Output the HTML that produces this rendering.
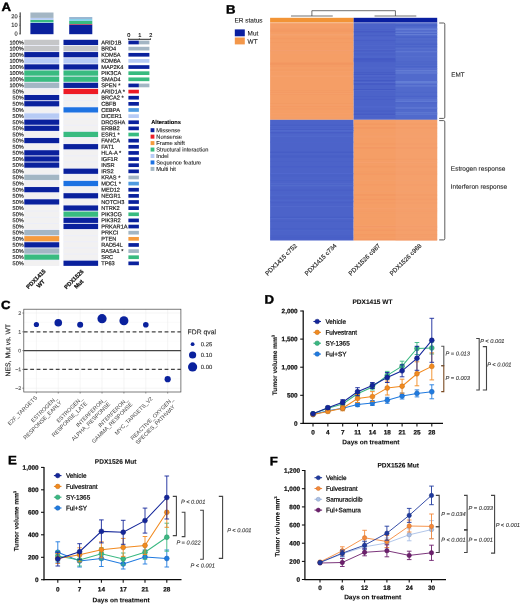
<!DOCTYPE html>
<html lang="en"><head><meta charset="utf-8"><title>Figure</title>
<style>html,body{margin:0;padding:0;background:#fff}body{width:520px;height:605px;overflow:hidden}svg{display:block;font-family:"Liberation Sans",sans-serif;text-rendering:geometricPrecision}</style></head><body>
<svg width="520" height="605" viewBox="0 0 520 605" fill="#1a1a1a">
<rect width="520" height="605" fill="#fff"/>
<g id="panelA">
<text transform="translate(1.60,11.00) rotate(0.03) scale(1.1,1)" font-size="12" font-weight="bold" fill="#000" stroke="#000" stroke-width="0.4">A</text>
<line x1="20.20" y1="12.40" x2="20.20" y2="34.40" stroke="#111" stroke-width="0.9"/>
<text transform="translate(17.60,18.20) rotate(0.03)" font-size="5.7" text-anchor="end" stroke="#1a1a1a" stroke-width="0.1">20</text>
<line x1="19.20" y1="16.60" x2="20.20" y2="16.60" stroke="#222" stroke-width="0.5"/>
<text transform="translate(17.60,26.80) rotate(0.03)" font-size="5.7" text-anchor="end" stroke="#1a1a1a" stroke-width="0.1">10</text>
<line x1="19.20" y1="25.20" x2="20.20" y2="25.20" stroke="#222" stroke-width="0.5"/>
<text transform="translate(17.60,35.40) rotate(0.03)" font-size="5.7" text-anchor="end" stroke="#1a1a1a" stroke-width="0.1">0</text>
<line x1="19.20" y1="33.80" x2="20.20" y2="33.80" stroke="#222" stroke-width="0.5"/>
<line x1="19.60" y1="33.80" x2="20.20" y2="33.80" stroke="#222" stroke-width="0.3"/>
<line x1="19.60" y1="32.08" x2="20.20" y2="32.08" stroke="#222" stroke-width="0.3"/>
<line x1="19.60" y1="30.36" x2="20.20" y2="30.36" stroke="#222" stroke-width="0.3"/>
<line x1="19.60" y1="28.64" x2="20.20" y2="28.64" stroke="#222" stroke-width="0.3"/>
<line x1="19.60" y1="26.92" x2="20.20" y2="26.92" stroke="#222" stroke-width="0.3"/>
<line x1="19.60" y1="25.20" x2="20.20" y2="25.20" stroke="#222" stroke-width="0.3"/>
<line x1="19.60" y1="23.48" x2="20.20" y2="23.48" stroke="#222" stroke-width="0.3"/>
<line x1="19.60" y1="21.76" x2="20.20" y2="21.76" stroke="#222" stroke-width="0.3"/>
<line x1="19.60" y1="20.04" x2="20.20" y2="20.04" stroke="#222" stroke-width="0.3"/>
<line x1="19.60" y1="18.32" x2="20.20" y2="18.32" stroke="#222" stroke-width="0.3"/>
<line x1="19.60" y1="16.60" x2="20.20" y2="16.60" stroke="#222" stroke-width="0.3"/>
<line x1="19.60" y1="14.88" x2="20.20" y2="14.88" stroke="#222" stroke-width="0.3"/>
<line x1="19.60" y1="13.16" x2="20.20" y2="13.16" stroke="#222" stroke-width="0.3"/>
<rect x="30.40" y="23.00" width="23.10" height="11.20" fill="#0a219d"/>
<rect x="30.40" y="22.20" width="23.10" height="0.80" fill="#9fd4e0"/>
<rect x="30.40" y="19.80" width="23.10" height="2.40" fill="#38bb80"/>
<rect x="30.40" y="17.90" width="23.10" height="1.90" fill="#b7cbf5"/>
<rect x="30.40" y="12.50" width="23.10" height="5.40" fill="#a3b6c4"/>
<rect x="69.20" y="24.50" width="23.10" height="9.70" fill="#0a219d"/>
<rect x="69.20" y="24.00" width="23.10" height="0.50" fill="#ee1c25"/>
<rect x="69.20" y="20.90" width="23.10" height="3.10" fill="#38bb80"/>
<rect x="69.20" y="18.90" width="23.10" height="2.00" fill="#86d0ea"/>
<rect x="69.20" y="17.10" width="23.10" height="1.80" fill="#8eb0cf"/>
<rect x="24.30" y="39.80" width="34.90" height="226.06" fill="#eceef9"/>
<rect x="63.50" y="39.80" width="34.60" height="226.06" fill="#eceef9"/>
<rect x="24.30" y="39.80" width="34.90" height="5.20" fill="#c5c6c8"/>
<rect x="63.50" y="39.80" width="34.60" height="5.20" fill="#0a219d"/>
<text transform="translate(23.80,44.40) rotate(0.03)" font-size="5.6" text-anchor="end" stroke="#1a1a1a" stroke-width="0.15">100%</text>
<text transform="translate(101.20,44.40) rotate(0.03)" font-size="5.65" stroke="#1a1a1a" stroke-width="0.17">ARID1B</text>
<rect x="128.40" y="40.65" width="10.50" height="3.70" fill="#0a219d"/>
<rect x="138.90" y="40.65" width="10.50" height="3.70" fill="#a3b6c4"/>
<rect x="24.30" y="45.93" width="34.90" height="5.20" fill="#c5c6c8"/>
<rect x="63.50" y="45.93" width="34.60" height="5.20" fill="#c5c6c8"/>
<text transform="translate(23.80,50.53) rotate(0.03)" font-size="5.6" text-anchor="end" stroke="#1a1a1a" stroke-width="0.15">100%</text>
<text transform="translate(101.20,50.53) rotate(0.03)" font-size="5.65" stroke="#1a1a1a" stroke-width="0.17">BRD4</text>
<rect x="128.40" y="46.78" width="21.00" height="3.70" fill="#a3b6c4"/>
<rect x="24.30" y="52.07" width="34.90" height="5.20" fill="#0a219d"/>
<rect x="63.50" y="52.07" width="34.60" height="5.20" fill="#0a219d"/>
<text transform="translate(23.80,56.67) rotate(0.03)" font-size="5.6" text-anchor="end" stroke="#1a1a1a" stroke-width="0.15">100%</text>
<text transform="translate(101.20,56.67) rotate(0.03)" font-size="5.65" stroke="#1a1a1a" stroke-width="0.17">KDM5A</text>
<rect x="128.40" y="52.92" width="21.00" height="3.70" fill="#0a219d"/>
<rect x="24.30" y="58.20" width="34.90" height="5.20" fill="#b7cbf5"/>
<rect x="63.50" y="58.20" width="34.60" height="5.20" fill="#b7cbf5"/>
<text transform="translate(23.80,62.80) rotate(0.03)" font-size="5.6" text-anchor="end" stroke="#1a1a1a" stroke-width="0.15">100%</text>
<text transform="translate(101.20,62.80) rotate(0.03)" font-size="5.65" stroke="#1a1a1a" stroke-width="0.17">KDM6A</text>
<rect x="128.40" y="59.05" width="21.00" height="3.70" fill="#b7cbf5"/>
<rect x="24.30" y="64.34" width="34.90" height="5.20" fill="#0a219d"/>
<rect x="63.50" y="64.34" width="34.60" height="5.20" fill="#0a219d"/>
<text transform="translate(23.80,68.94) rotate(0.03)" font-size="5.6" text-anchor="end" stroke="#1a1a1a" stroke-width="0.15">100%</text>
<text transform="translate(101.20,68.94) rotate(0.03)" font-size="5.65" stroke="#1a1a1a" stroke-width="0.17">MAP2K4</text>
<rect x="128.40" y="65.19" width="21.00" height="3.70" fill="#0a219d"/>
<rect x="24.30" y="70.47" width="34.90" height="5.20" fill="#38bb80"/>
<rect x="63.50" y="70.47" width="34.60" height="5.20" fill="#38bb80"/>
<text transform="translate(23.80,75.07) rotate(0.03)" font-size="5.6" text-anchor="end" stroke="#1a1a1a" stroke-width="0.15">100%</text>
<text transform="translate(101.20,75.07) rotate(0.03)" font-size="5.65" stroke="#1a1a1a" stroke-width="0.17">PIK3CA</text>
<rect x="128.40" y="71.32" width="21.00" height="3.70" fill="#38bb80"/>
<rect x="24.30" y="76.61" width="34.90" height="5.20" fill="#38bb80"/>
<rect x="63.50" y="76.61" width="34.60" height="5.20" fill="#38bb80"/>
<text transform="translate(23.80,81.21) rotate(0.03)" font-size="5.6" text-anchor="end" stroke="#1a1a1a" stroke-width="0.15">100%</text>
<text transform="translate(101.20,81.21) rotate(0.03)" font-size="5.65" stroke="#1a1a1a" stroke-width="0.17">SMAD4</text>
<rect x="128.40" y="77.46" width="21.00" height="3.70" fill="#38bb80"/>
<rect x="24.30" y="82.75" width="34.90" height="5.20" fill="#a3b6c4"/>
<rect x="63.50" y="82.75" width="34.60" height="5.20" fill="#0a219d"/>
<text transform="translate(23.80,87.34) rotate(0.03)" font-size="5.6" text-anchor="end" stroke="#1a1a1a" stroke-width="0.15">100%</text>
<text transform="translate(101.20,87.34) rotate(0.03)" font-size="5.65" stroke="#1a1a1a" stroke-width="0.17">SPEN *</text>
<rect x="128.40" y="83.59" width="10.50" height="3.70" fill="#0a219d"/>
<rect x="138.90" y="83.59" width="10.50" height="3.70" fill="#a3b6c4"/>
<rect x="24.30" y="88.88" width="34.90" height="5.20" fill="#f2f1f1"/>
<rect x="63.50" y="88.88" width="34.60" height="5.20" fill="#ee1c25"/>
<text transform="translate(23.80,93.48) rotate(0.03)" font-size="5.6" text-anchor="end" stroke="#1a1a1a" stroke-width="0.15">50%</text>
<text transform="translate(101.20,93.48) rotate(0.03)" font-size="5.65" stroke="#1a1a1a" stroke-width="0.17">ARID1A *</text>
<rect x="128.40" y="89.73" width="10.50" height="3.70" fill="#ee1c25"/>
<rect x="24.30" y="95.01" width="34.90" height="5.20" fill="#0a219d"/>
<rect x="63.50" y="95.01" width="34.60" height="5.20" fill="#f2f1f1"/>
<text transform="translate(23.80,99.61) rotate(0.03)" font-size="5.6" text-anchor="end" stroke="#1a1a1a" stroke-width="0.15">50%</text>
<text transform="translate(101.20,99.61) rotate(0.03)" font-size="5.65" stroke="#1a1a1a" stroke-width="0.17">BRCA2 *</text>
<rect x="128.40" y="95.86" width="10.50" height="3.70" fill="#0a219d"/>
<rect x="24.30" y="101.15" width="34.90" height="5.20" fill="#0a219d"/>
<rect x="63.50" y="101.15" width="34.60" height="5.20" fill="#f2f1f1"/>
<text transform="translate(23.80,105.75) rotate(0.03)" font-size="5.6" text-anchor="end" stroke="#1a1a1a" stroke-width="0.15">50%</text>
<text transform="translate(101.20,105.75) rotate(0.03)" font-size="5.65" stroke="#1a1a1a" stroke-width="0.17">CBFB</text>
<rect x="128.40" y="102.00" width="10.50" height="3.70" fill="#0a219d"/>
<rect x="24.30" y="107.28" width="34.90" height="5.20" fill="#f2f1f1"/>
<rect x="63.50" y="107.28" width="34.60" height="5.20" fill="#1d72e2"/>
<text transform="translate(23.80,111.88) rotate(0.03)" font-size="5.6" text-anchor="end" stroke="#1a1a1a" stroke-width="0.15">50%</text>
<text transform="translate(101.20,111.88) rotate(0.03)" font-size="5.65" stroke="#1a1a1a" stroke-width="0.17">CEBPA</text>
<rect x="128.40" y="108.13" width="10.50" height="3.70" fill="#4e9be0"/>
<rect x="24.30" y="113.42" width="34.90" height="5.20" fill="#b7cbf5"/>
<rect x="63.50" y="113.42" width="34.60" height="5.20" fill="#f2f1f1"/>
<text transform="translate(23.80,118.02) rotate(0.03)" font-size="5.6" text-anchor="end" stroke="#1a1a1a" stroke-width="0.15">50%</text>
<text transform="translate(101.20,118.02) rotate(0.03)" font-size="5.65" stroke="#1a1a1a" stroke-width="0.17">DICER1</text>
<rect x="128.40" y="114.27" width="10.50" height="3.70" fill="#b7cbf5"/>
<rect x="24.30" y="119.55" width="34.90" height="5.20" fill="#0a219d"/>
<rect x="63.50" y="119.55" width="34.60" height="5.20" fill="#f2f1f1"/>
<text transform="translate(23.80,124.15) rotate(0.03)" font-size="5.6" text-anchor="end" stroke="#1a1a1a" stroke-width="0.15">50%</text>
<text transform="translate(101.20,124.15) rotate(0.03)" font-size="5.65" stroke="#1a1a1a" stroke-width="0.17">DROSHA</text>
<rect x="128.40" y="120.40" width="10.50" height="3.70" fill="#0a219d"/>
<rect x="24.30" y="125.69" width="34.90" height="5.20" fill="#0a219d"/>
<rect x="63.50" y="125.69" width="34.60" height="5.20" fill="#f2f1f1"/>
<text transform="translate(23.80,130.29) rotate(0.03)" font-size="5.6" text-anchor="end" stroke="#1a1a1a" stroke-width="0.15">50%</text>
<text transform="translate(101.20,130.29) rotate(0.03)" font-size="5.65" stroke="#1a1a1a" stroke-width="0.17">ERBB2</text>
<rect x="128.40" y="126.54" width="10.50" height="3.70" fill="#0a219d"/>
<rect x="24.30" y="131.82" width="34.90" height="5.20" fill="#f2f1f1"/>
<rect x="63.50" y="131.82" width="34.60" height="5.20" fill="#38bb80"/>
<text transform="translate(23.80,136.42) rotate(0.03)" font-size="5.6" text-anchor="end" stroke="#1a1a1a" stroke-width="0.15">50%</text>
<text transform="translate(101.20,136.42) rotate(0.03)" font-size="5.65" stroke="#1a1a1a" stroke-width="0.17">ESR1 *</text>
<rect x="128.40" y="132.67" width="10.50" height="3.70" fill="#38bb80"/>
<rect x="24.30" y="137.96" width="34.90" height="5.20" fill="#0a219d"/>
<rect x="63.50" y="137.96" width="34.60" height="5.20" fill="#f2f1f1"/>
<text transform="translate(23.80,142.56) rotate(0.03)" font-size="5.6" text-anchor="end" stroke="#1a1a1a" stroke-width="0.15">50%</text>
<text transform="translate(101.20,142.56) rotate(0.03)" font-size="5.65" stroke="#1a1a1a" stroke-width="0.17">FANCA</text>
<rect x="128.40" y="138.81" width="10.50" height="3.70" fill="#0a219d"/>
<rect x="24.30" y="144.09" width="34.90" height="5.20" fill="#f2f1f1"/>
<rect x="63.50" y="144.09" width="34.60" height="5.20" fill="#0a219d"/>
<text transform="translate(23.80,148.69) rotate(0.03)" font-size="5.6" text-anchor="end" stroke="#1a1a1a" stroke-width="0.15">50%</text>
<text transform="translate(101.20,148.69) rotate(0.03)" font-size="5.65" stroke="#1a1a1a" stroke-width="0.17">FAT1</text>
<rect x="128.40" y="144.94" width="10.50" height="3.70" fill="#0a219d"/>
<rect x="24.30" y="150.23" width="34.90" height="5.20" fill="#0a219d"/>
<rect x="63.50" y="150.23" width="34.60" height="5.20" fill="#f2f1f1"/>
<text transform="translate(23.80,154.83) rotate(0.03)" font-size="5.6" text-anchor="end" stroke="#1a1a1a" stroke-width="0.15">50%</text>
<text transform="translate(101.20,154.83) rotate(0.03)" font-size="5.65" stroke="#1a1a1a" stroke-width="0.17">HLA-A *</text>
<rect x="128.40" y="151.08" width="10.50" height="3.70" fill="#0a219d"/>
<rect x="24.30" y="156.37" width="34.90" height="5.20" fill="#0a219d"/>
<rect x="63.50" y="156.37" width="34.60" height="5.20" fill="#f2f1f1"/>
<text transform="translate(23.80,160.97) rotate(0.03)" font-size="5.6" text-anchor="end" stroke="#1a1a1a" stroke-width="0.15">50%</text>
<text transform="translate(101.20,160.97) rotate(0.03)" font-size="5.65" stroke="#1a1a1a" stroke-width="0.17">IGF1R</text>
<rect x="128.40" y="157.22" width="10.50" height="3.70" fill="#0a219d"/>
<rect x="24.30" y="162.50" width="34.90" height="5.20" fill="#0a219d"/>
<rect x="63.50" y="162.50" width="34.60" height="5.20" fill="#f2f1f1"/>
<text transform="translate(23.80,167.10) rotate(0.03)" font-size="5.6" text-anchor="end" stroke="#1a1a1a" stroke-width="0.15">50%</text>
<text transform="translate(101.20,167.10) rotate(0.03)" font-size="5.65" stroke="#1a1a1a" stroke-width="0.17">INSR</text>
<rect x="128.40" y="163.35" width="10.50" height="3.70" fill="#0a219d"/>
<rect x="24.30" y="168.63" width="34.90" height="5.20" fill="#f2f1f1"/>
<rect x="63.50" y="168.63" width="34.60" height="5.20" fill="#0a219d"/>
<text transform="translate(23.80,173.23) rotate(0.03)" font-size="5.6" text-anchor="end" stroke="#1a1a1a" stroke-width="0.15">50%</text>
<text transform="translate(101.20,173.23) rotate(0.03)" font-size="5.65" stroke="#1a1a1a" stroke-width="0.17">IRS2</text>
<rect x="128.40" y="169.48" width="10.50" height="3.70" fill="#0a219d"/>
<rect x="24.30" y="174.77" width="34.90" height="5.20" fill="#a3b6c4"/>
<rect x="63.50" y="174.77" width="34.60" height="5.20" fill="#f2f1f1"/>
<text transform="translate(23.80,179.37) rotate(0.03)" font-size="5.6" text-anchor="end" stroke="#1a1a1a" stroke-width="0.15">50%</text>
<text transform="translate(101.20,179.37) rotate(0.03)" font-size="5.65" stroke="#1a1a1a" stroke-width="0.17">KRAS *</text>
<rect x="128.40" y="175.62" width="10.50" height="3.70" fill="#a3b6c4"/>
<rect x="24.30" y="180.90" width="34.90" height="5.20" fill="#f2f1f1"/>
<rect x="63.50" y="180.90" width="34.60" height="5.20" fill="#1d72e2"/>
<text transform="translate(23.80,185.50) rotate(0.03)" font-size="5.6" text-anchor="end" stroke="#1a1a1a" stroke-width="0.15">50%</text>
<text transform="translate(101.20,185.50) rotate(0.03)" font-size="5.65" stroke="#1a1a1a" stroke-width="0.17">MDC1 *</text>
<rect x="128.40" y="181.75" width="10.50" height="3.70" fill="#4e9be0"/>
<rect x="24.30" y="187.04" width="34.90" height="5.20" fill="#0a219d"/>
<rect x="63.50" y="187.04" width="34.60" height="5.20" fill="#f2f1f1"/>
<text transform="translate(23.80,191.64) rotate(0.03)" font-size="5.6" text-anchor="end" stroke="#1a1a1a" stroke-width="0.15">50%</text>
<text transform="translate(101.20,191.64) rotate(0.03)" font-size="5.65" stroke="#1a1a1a" stroke-width="0.17">MED12</text>
<rect x="128.40" y="187.89" width="10.50" height="3.70" fill="#0a219d"/>
<rect x="24.30" y="193.18" width="34.90" height="5.20" fill="#f2f1f1"/>
<rect x="63.50" y="193.18" width="34.60" height="5.20" fill="#0a219d"/>
<text transform="translate(23.80,197.78) rotate(0.03)" font-size="5.6" text-anchor="end" stroke="#1a1a1a" stroke-width="0.15">50%</text>
<text transform="translate(101.20,197.78) rotate(0.03)" font-size="5.65" stroke="#1a1a1a" stroke-width="0.17">NEGR1</text>
<rect x="128.40" y="194.03" width="10.50" height="3.70" fill="#0a219d"/>
<rect x="24.30" y="199.31" width="34.90" height="5.20" fill="#0a219d"/>
<rect x="63.50" y="199.31" width="34.60" height="5.20" fill="#f2f1f1"/>
<text transform="translate(23.80,203.91) rotate(0.03)" font-size="5.6" text-anchor="end" stroke="#1a1a1a" stroke-width="0.15">50%</text>
<text transform="translate(101.20,203.91) rotate(0.03)" font-size="5.65" stroke="#1a1a1a" stroke-width="0.17">NOTCH3</text>
<rect x="128.40" y="200.16" width="10.50" height="3.70" fill="#0a219d"/>
<rect x="24.30" y="205.44" width="34.90" height="5.20" fill="#f2f1f1"/>
<rect x="63.50" y="205.44" width="34.60" height="5.20" fill="#0a219d"/>
<text transform="translate(23.80,210.04) rotate(0.03)" font-size="5.6" text-anchor="end" stroke="#1a1a1a" stroke-width="0.15">50%</text>
<text transform="translate(101.20,210.04) rotate(0.03)" font-size="5.65" stroke="#1a1a1a" stroke-width="0.17">NTRK2</text>
<rect x="128.40" y="206.29" width="10.50" height="3.70" fill="#0a219d"/>
<rect x="24.30" y="211.58" width="34.90" height="5.20" fill="#f2f1f1"/>
<rect x="63.50" y="211.58" width="34.60" height="5.20" fill="#38bb80"/>
<text transform="translate(23.80,216.18) rotate(0.03)" font-size="5.6" text-anchor="end" stroke="#1a1a1a" stroke-width="0.15">50%</text>
<text transform="translate(101.20,216.18) rotate(0.03)" font-size="5.65" stroke="#1a1a1a" stroke-width="0.17">PIK3CG</text>
<rect x="128.40" y="212.43" width="10.50" height="3.70" fill="#38bb80"/>
<rect x="24.30" y="217.71" width="34.90" height="5.20" fill="#f2f1f1"/>
<rect x="63.50" y="217.71" width="34.60" height="5.20" fill="#0a219d"/>
<text transform="translate(23.80,222.31) rotate(0.03)" font-size="5.6" text-anchor="end" stroke="#1a1a1a" stroke-width="0.15">50%</text>
<text transform="translate(101.20,222.31) rotate(0.03)" font-size="5.65" stroke="#1a1a1a" stroke-width="0.17">PIK3R2</text>
<rect x="128.40" y="218.56" width="10.50" height="3.70" fill="#0a219d"/>
<rect x="24.30" y="223.85" width="34.90" height="5.20" fill="#f2f1f1"/>
<rect x="63.50" y="223.85" width="34.60" height="5.20" fill="#0a219d"/>
<text transform="translate(23.80,228.45) rotate(0.03)" font-size="5.6" text-anchor="end" stroke="#1a1a1a" stroke-width="0.15">50%</text>
<text transform="translate(101.20,228.45) rotate(0.03)" font-size="5.65" stroke="#1a1a1a" stroke-width="0.17">PRKAR1A</text>
<rect x="128.40" y="224.70" width="10.50" height="3.70" fill="#0a219d"/>
<rect x="24.30" y="229.99" width="34.90" height="5.20" fill="#a3b6c4"/>
<rect x="63.50" y="229.99" width="34.60" height="5.20" fill="#f2f1f1"/>
<text transform="translate(23.80,234.59) rotate(0.03)" font-size="5.6" text-anchor="end" stroke="#1a1a1a" stroke-width="0.15">50%</text>
<text transform="translate(101.20,234.59) rotate(0.03)" font-size="5.65" stroke="#1a1a1a" stroke-width="0.17">PRKCI</text>
<rect x="128.40" y="230.84" width="10.50" height="3.70" fill="#a3b6c4"/>
<rect x="24.30" y="236.12" width="34.90" height="5.20" fill="#f59b3e"/>
<rect x="63.50" y="236.12" width="34.60" height="5.20" fill="#f2f1f1"/>
<text transform="translate(23.80,240.72) rotate(0.03)" font-size="5.6" text-anchor="end" stroke="#1a1a1a" stroke-width="0.15">50%</text>
<text transform="translate(101.20,240.72) rotate(0.03)" font-size="5.65" stroke="#1a1a1a" stroke-width="0.17">PTEN</text>
<rect x="128.40" y="236.97" width="10.50" height="3.70" fill="#f59b3e"/>
<rect x="24.30" y="242.25" width="34.90" height="5.20" fill="#0a219d"/>
<rect x="63.50" y="242.25" width="34.60" height="5.20" fill="#f2f1f1"/>
<text transform="translate(23.80,246.85) rotate(0.03)" font-size="5.6" text-anchor="end" stroke="#1a1a1a" stroke-width="0.15">50%</text>
<text transform="translate(101.20,246.85) rotate(0.03)" font-size="5.65" stroke="#1a1a1a" stroke-width="0.17">RAD54L</text>
<rect x="128.40" y="243.10" width="10.50" height="3.70" fill="#0a219d"/>
<rect x="24.30" y="248.39" width="34.90" height="5.20" fill="#a3b6c4"/>
<rect x="63.50" y="248.39" width="34.60" height="5.20" fill="#f2f1f1"/>
<text transform="translate(23.80,252.99) rotate(0.03)" font-size="5.6" text-anchor="end" stroke="#1a1a1a" stroke-width="0.15">50%</text>
<text transform="translate(101.20,252.99) rotate(0.03)" font-size="5.65" stroke="#1a1a1a" stroke-width="0.17">RASA1 *</text>
<rect x="128.40" y="249.24" width="10.50" height="3.70" fill="#a3b6c4"/>
<rect x="24.30" y="254.52" width="34.90" height="5.20" fill="#38bb80"/>
<rect x="63.50" y="254.52" width="34.60" height="5.20" fill="#f2f1f1"/>
<text transform="translate(23.80,259.12) rotate(0.03)" font-size="5.6" text-anchor="end" stroke="#1a1a1a" stroke-width="0.15">50%</text>
<text transform="translate(101.20,259.12) rotate(0.03)" font-size="5.65" stroke="#1a1a1a" stroke-width="0.17">SRC</text>
<rect x="128.40" y="255.37" width="10.50" height="3.70" fill="#38bb80"/>
<rect x="24.30" y="260.66" width="34.90" height="5.20" fill="#f2f1f1"/>
<rect x="63.50" y="260.66" width="34.60" height="5.20" fill="#0a219d"/>
<text transform="translate(23.80,265.26) rotate(0.03)" font-size="5.6" text-anchor="end" stroke="#1a1a1a" stroke-width="0.15">50%</text>
<text transform="translate(101.20,265.26) rotate(0.03)" font-size="5.65" stroke="#1a1a1a" stroke-width="0.17">TP63</text>
<rect x="128.40" y="261.51" width="10.50" height="3.70" fill="#0a219d"/>
<line x1="128.00" y1="39.30" x2="150.90" y2="39.30" stroke="#111" stroke-width="0.9"/>
<text transform="translate(128.70,37.00) rotate(0.03)" font-size="5.6" text-anchor="middle" fill="#111" stroke="#111" stroke-width="0.15">0</text>
<line x1="128.40" y1="39.30" x2="128.40" y2="38.30" stroke="#111" stroke-width="0.6"/>
<text transform="translate(139.70,37.00) rotate(0.03)" font-size="5.6" text-anchor="middle" fill="#111" stroke="#111" stroke-width="0.15">1</text>
<line x1="139.40" y1="39.30" x2="139.40" y2="38.30" stroke="#111" stroke-width="0.6"/>
<text transform="translate(150.80,37.00) rotate(0.03)" font-size="5.6" text-anchor="middle" fill="#111" stroke="#111" stroke-width="0.15">2</text>
<line x1="150.50" y1="39.30" x2="150.50" y2="38.30" stroke="#111" stroke-width="0.6"/>
<text transform="translate(151.20,123.90) rotate(0.03)" font-size="5.7" font-weight="bold" fill="#000" stroke="#000" stroke-width="0.1">Alterations</text>
<rect x="150.60" y="128.20" width="3.80" height="4.00" fill="#0a219d"/>
<text transform="translate(156.30,132.20) rotate(0.03)" font-size="5.7" stroke="#1a1a1a" stroke-width="0.1">Missense</text>
<rect x="150.60" y="134.65" width="3.80" height="4.00" fill="#ee1c25"/>
<text transform="translate(156.30,138.65) rotate(0.03)" font-size="5.7" stroke="#1a1a1a" stroke-width="0.1">Nonsense</text>
<rect x="150.60" y="141.10" width="3.80" height="4.00" fill="#f59b3e"/>
<text transform="translate(156.30,145.10) rotate(0.03)" font-size="5.7" stroke="#1a1a1a" stroke-width="0.1">Frame shift</text>
<rect x="150.60" y="147.55" width="3.80" height="4.00" fill="#38bb80"/>
<text transform="translate(156.30,151.55) rotate(0.03)" font-size="5.7" stroke="#1a1a1a" stroke-width="0.1">Structural interaction</text>
<rect x="150.60" y="154.00" width="3.80" height="4.00" fill="#b7cbf5"/>
<text transform="translate(156.30,158.00) rotate(0.03)" font-size="5.7" stroke="#1a1a1a" stroke-width="0.1">Indel</text>
<rect x="150.60" y="160.45" width="3.80" height="4.00" fill="#1d72e2"/>
<text transform="translate(156.30,164.45) rotate(0.03)" font-size="5.7" stroke="#1a1a1a" stroke-width="0.1">Sequence feature</text>
<rect x="150.60" y="166.90" width="3.80" height="4.00" fill="#a3b6c4"/>
<text transform="translate(156.30,170.90) rotate(0.03)" font-size="5.7" stroke="#1a1a1a" stroke-width="0.1">Multi hit</text>
<g transform="translate(46.0,271.6) rotate(-45)" font-weight="bold" font-size="5.8" fill="#111" stroke="#111" stroke-width="0.2"><text x="0" y="0" text-anchor="end">PDX1415</text><text x="-12.3" y="6.8" text-anchor="middle">WT</text></g>
<g transform="translate(84.0,271.9) rotate(-45)" font-weight="bold" font-size="5.8" fill="#111" stroke="#111" stroke-width="0.2"><text x="0" y="0" text-anchor="end">PDX1526</text><text x="-12.3" y="6.8" text-anchor="middle">Mut</text></g>
</g>
<g id="panelB">
<text transform="translate(226.00,13.40) rotate(0.03) scale(1.1,1)" font-size="12" font-weight="bold" fill="#000" stroke="#000" stroke-width="0.4">B</text>
<text transform="translate(234.40,22.60) rotate(0.03)" font-size="6.5" stroke="#1a1a1a" stroke-width="0.1">ER status</text>
<rect x="234.80" y="29.40" width="10.00" height="6.90" fill="#0a1fa0"/>
<rect x="234.80" y="37.50" width="10.00" height="6.90" fill="#f3974a"/>
<text transform="translate(247.60,35.60) rotate(0.03)" font-size="6.4" stroke="#1a1a1a" stroke-width="0.1">Mut</text>
<text transform="translate(247.60,43.70) rotate(0.03)" font-size="6.4" stroke="#1a1a1a" stroke-width="0.1">WT</text>
<rect x="270.10" y="17.80" width="83.55" height="4.80" fill="#f29436"/>
<rect x="353.65" y="17.80" width="83.55" height="4.80" fill="#0a1fa0"/>
<rect x="270.10" y="22.60" width="83.55" height="97.20" fill="#f59e66"/>
<rect x="353.65" y="22.60" width="83.55" height="97.20" fill="#4c63c9"/>
<rect x="270.10" y="119.80" width="83.55" height="120.70" fill="#4c63c9"/>
<rect x="353.65" y="119.80" width="83.55" height="120.70" fill="#f59e66"/>
<rect x="395.42" y="22.60" width="41.77" height="97.20" fill="#5d78d2" opacity="0.35"/>
<rect x="353.65" y="53.69" width="41.77" height="0.64" fill="#3c50c0" opacity="0.18"/>
<rect x="353.65" y="74.04" width="41.77" height="0.83" fill="#3c50c0" opacity="0.47"/>
<rect x="353.65" y="43.21" width="41.77" height="0.58" fill="#5d74d4" opacity="0.17"/>
<rect x="353.65" y="31.31" width="41.77" height="0.88" fill="#3c50c0" opacity="0.48"/>
<rect x="353.65" y="83.14" width="41.77" height="1.02" fill="#3c50c0" opacity="0.35"/>
<rect x="353.65" y="60.68" width="41.77" height="1.38" fill="#3c50c0" opacity="0.34"/>
<rect x="353.65" y="35.38" width="41.77" height="0.88" fill="#3c50c0" opacity="0.35"/>
<rect x="353.65" y="76.38" width="41.77" height="1.11" fill="#3c50c0" opacity="0.35"/>
<rect x="353.65" y="83.94" width="41.77" height="0.84" fill="#3c50c0" opacity="0.35"/>
<rect x="353.65" y="82.02" width="41.77" height="0.95" fill="#5d74d4" opacity="0.42"/>
<rect x="353.65" y="67.30" width="41.77" height="1.33" fill="#5d74d4" opacity="0.25"/>
<rect x="353.65" y="98.86" width="41.77" height="1.13" fill="#3c50c0" opacity="0.18"/>
<rect x="353.65" y="51.42" width="41.77" height="0.95" fill="#5d74d4" opacity="0.41"/>
<rect x="353.65" y="50.24" width="41.77" height="1.38" fill="#3c50c0" opacity="0.33"/>
<rect x="353.65" y="38.44" width="41.77" height="0.81" fill="#5d74d4" opacity="0.30"/>
<rect x="353.65" y="114.95" width="41.77" height="0.57" fill="#5d74d4" opacity="0.27"/>
<rect x="353.65" y="56.22" width="41.77" height="0.95" fill="#5d74d4" opacity="0.17"/>
<rect x="353.65" y="31.59" width="41.77" height="0.74" fill="#3c50c0" opacity="0.17"/>
<rect x="353.65" y="89.94" width="41.77" height="1.08" fill="#5d74d4" opacity="0.25"/>
<rect x="353.65" y="59.64" width="41.77" height="1.10" fill="#3c50c0" opacity="0.48"/>
<rect x="353.65" y="56.72" width="41.77" height="1.05" fill="#5d74d4" opacity="0.17"/>
<rect x="353.65" y="96.35" width="41.77" height="0.62" fill="#3c50c0" opacity="0.29"/>
<rect x="353.65" y="110.61" width="41.77" height="0.95" fill="#3c50c0" opacity="0.31"/>
<rect x="353.65" y="75.35" width="41.77" height="1.30" fill="#5d74d4" opacity="0.45"/>
<rect x="353.65" y="49.33" width="41.77" height="0.87" fill="#5d74d4" opacity="0.39"/>
<rect x="353.65" y="59.12" width="41.77" height="0.71" fill="#3c50c0" opacity="0.21"/>
<rect x="353.65" y="44.87" width="41.77" height="0.71" fill="#5d74d4" opacity="0.44"/>
<rect x="353.65" y="40.10" width="41.77" height="0.75" fill="#3c50c0" opacity="0.30"/>
<rect x="353.65" y="58.05" width="41.77" height="1.01" fill="#3c50c0" opacity="0.39"/>
<rect x="353.65" y="72.09" width="41.77" height="1.06" fill="#3c50c0" opacity="0.31"/>
<rect x="353.65" y="106.21" width="41.77" height="1.36" fill="#5d74d4" opacity="0.29"/>
<rect x="353.65" y="60.44" width="41.77" height="0.93" fill="#5d74d4" opacity="0.17"/>
<rect x="353.65" y="29.07" width="41.77" height="0.69" fill="#3c50c0" opacity="0.19"/>
<rect x="353.65" y="80.27" width="41.77" height="0.59" fill="#3c50c0" opacity="0.34"/>
<rect x="353.65" y="113.70" width="41.77" height="1.05" fill="#3c50c0" opacity="0.46"/>
<rect x="353.65" y="81.55" width="41.77" height="0.63" fill="#5d74d4" opacity="0.48"/>
<rect x="353.65" y="80.42" width="41.77" height="0.93" fill="#3c50c0" opacity="0.45"/>
<rect x="353.65" y="117.94" width="41.77" height="0.92" fill="#5d74d4" opacity="0.26"/>
<rect x="353.65" y="36.44" width="41.77" height="1.17" fill="#5d74d4" opacity="0.32"/>
<rect x="353.65" y="89.04" width="41.77" height="0.96" fill="#3c50c0" opacity="0.48"/>
<rect x="395.42" y="73.31" width="41.78" height="0.63" fill="#7690de" opacity="0.45"/>
<rect x="395.42" y="51.22" width="41.78" height="1.08" fill="#7690de" opacity="0.43"/>
<rect x="395.42" y="47.67" width="41.78" height="0.83" fill="#7690de" opacity="0.29"/>
<rect x="395.42" y="43.99" width="41.78" height="0.99" fill="#4058c4" opacity="0.40"/>
<rect x="395.42" y="81.47" width="41.78" height="1.21" fill="#7690de" opacity="0.47"/>
<rect x="395.42" y="101.16" width="41.78" height="1.17" fill="#7690de" opacity="0.23"/>
<rect x="395.42" y="69.91" width="41.78" height="1.16" fill="#7690de" opacity="0.47"/>
<rect x="395.42" y="67.94" width="41.78" height="0.67" fill="#4058c4" opacity="0.33"/>
<rect x="395.42" y="112.55" width="41.78" height="1.39" fill="#4058c4" opacity="0.18"/>
<rect x="395.42" y="32.41" width="41.78" height="0.92" fill="#4058c4" opacity="0.23"/>
<rect x="395.42" y="82.51" width="41.78" height="1.31" fill="#7690de" opacity="0.34"/>
<rect x="395.42" y="85.29" width="41.78" height="1.22" fill="#7690de" opacity="0.48"/>
<rect x="395.42" y="34.11" width="41.78" height="0.85" fill="#7690de" opacity="0.34"/>
<rect x="395.42" y="39.74" width="41.78" height="1.21" fill="#4058c4" opacity="0.18"/>
<rect x="395.42" y="113.43" width="41.78" height="1.15" fill="#4058c4" opacity="0.31"/>
<rect x="395.42" y="113.49" width="41.78" height="1.15" fill="#7690de" opacity="0.55"/>
<rect x="395.42" y="25.24" width="41.78" height="1.03" fill="#4058c4" opacity="0.47"/>
<rect x="395.42" y="36.63" width="41.78" height="1.24" fill="#4058c4" opacity="0.41"/>
<rect x="395.42" y="56.24" width="41.78" height="0.99" fill="#7690de" opacity="0.16"/>
<rect x="395.42" y="99.34" width="41.78" height="1.15" fill="#7690de" opacity="0.36"/>
<rect x="395.42" y="112.23" width="41.78" height="0.89" fill="#7690de" opacity="0.48"/>
<rect x="395.42" y="42.86" width="41.78" height="0.73" fill="#4058c4" opacity="0.35"/>
<rect x="395.42" y="95.91" width="41.78" height="0.79" fill="#4058c4" opacity="0.48"/>
<rect x="395.42" y="28.45" width="41.78" height="1.17" fill="#4058c4" opacity="0.41"/>
<rect x="395.42" y="100.84" width="41.78" height="0.97" fill="#7690de" opacity="0.36"/>
<rect x="395.42" y="72.86" width="41.78" height="0.52" fill="#4058c4" opacity="0.46"/>
<rect x="395.42" y="81.02" width="41.78" height="1.20" fill="#7690de" opacity="0.22"/>
<rect x="395.42" y="68.06" width="41.78" height="1.15" fill="#7690de" opacity="0.28"/>
<rect x="395.42" y="72.36" width="41.78" height="1.00" fill="#7690de" opacity="0.50"/>
<rect x="395.42" y="28.05" width="41.78" height="0.67" fill="#7690de" opacity="0.46"/>
<rect x="395.42" y="71.34" width="41.78" height="1.01" fill="#7690de" opacity="0.33"/>
<rect x="395.42" y="81.40" width="41.78" height="0.95" fill="#7690de" opacity="0.43"/>
<rect x="395.42" y="66.03" width="41.78" height="0.98" fill="#4058c4" opacity="0.35"/>
<rect x="395.42" y="46.37" width="41.78" height="0.97" fill="#4058c4" opacity="0.52"/>
<rect x="395.42" y="108.30" width="41.78" height="0.68" fill="#4058c4" opacity="0.20"/>
<rect x="395.42" y="34.28" width="41.78" height="0.90" fill="#7690de" opacity="0.42"/>
<rect x="395.42" y="63.72" width="41.78" height="0.69" fill="#4058c4" opacity="0.46"/>
<rect x="395.42" y="108.71" width="41.78" height="0.64" fill="#4058c4" opacity="0.21"/>
<rect x="395.42" y="107.35" width="41.78" height="1.37" fill="#7690de" opacity="0.45"/>
<rect x="395.42" y="31.64" width="41.78" height="1.30" fill="#7690de" opacity="0.55"/>
<rect x="395.42" y="102.51" width="41.78" height="0.65" fill="#4058c4" opacity="0.55"/>
<rect x="395.42" y="61.37" width="41.78" height="0.88" fill="#4058c4" opacity="0.28"/>
<rect x="395.42" y="91.93" width="41.78" height="0.52" fill="#4058c4" opacity="0.33"/>
<rect x="395.42" y="24.34" width="41.78" height="0.80" fill="#4058c4" opacity="0.35"/>
<rect x="395.42" y="28.77" width="41.78" height="1.39" fill="#7690de" opacity="0.54"/>
<rect x="270.10" y="132.32" width="83.55" height="0.74" fill="#3c50c0" opacity="0.33"/>
<rect x="270.10" y="141.50" width="83.55" height="1.18" fill="#5f78d6" opacity="0.32"/>
<rect x="270.10" y="200.58" width="83.55" height="1.35" fill="#5f78d6" opacity="0.18"/>
<rect x="270.10" y="229.64" width="83.55" height="1.01" fill="#5f78d6" opacity="0.17"/>
<rect x="270.10" y="126.67" width="83.55" height="1.12" fill="#5f78d6" opacity="0.33"/>
<rect x="270.10" y="151.94" width="83.55" height="0.52" fill="#3c50c0" opacity="0.31"/>
<rect x="270.10" y="129.81" width="83.55" height="1.27" fill="#3c50c0" opacity="0.20"/>
<rect x="270.10" y="134.34" width="83.55" height="0.51" fill="#5f78d6" opacity="0.34"/>
<rect x="270.10" y="151.81" width="83.55" height="0.62" fill="#3c50c0" opacity="0.34"/>
<rect x="270.10" y="235.62" width="83.55" height="0.74" fill="#3c50c0" opacity="0.19"/>
<rect x="270.10" y="157.08" width="83.55" height="0.77" fill="#3c50c0" opacity="0.21"/>
<rect x="270.10" y="179.56" width="83.55" height="0.66" fill="#5f78d6" opacity="0.31"/>
<rect x="270.10" y="238.64" width="83.55" height="0.53" fill="#3c50c0" opacity="0.30"/>
<rect x="270.10" y="185.65" width="83.55" height="0.67" fill="#5f78d6" opacity="0.20"/>
<rect x="270.10" y="173.22" width="83.55" height="1.09" fill="#5f78d6" opacity="0.28"/>
<rect x="270.10" y="185.04" width="83.55" height="1.30" fill="#5f78d6" opacity="0.29"/>
<rect x="270.10" y="237.20" width="83.55" height="0.81" fill="#3c50c0" opacity="0.23"/>
<rect x="270.10" y="161.33" width="83.55" height="0.55" fill="#3c50c0" opacity="0.15"/>
<rect x="270.10" y="194.54" width="83.55" height="1.29" fill="#5f78d6" opacity="0.18"/>
<rect x="270.10" y="129.90" width="83.55" height="1.26" fill="#5f78d6" opacity="0.27"/>
<rect x="270.10" y="202.58" width="83.55" height="0.54" fill="#3c50c0" opacity="0.18"/>
<rect x="270.10" y="173.08" width="83.55" height="0.74" fill="#5f78d6" opacity="0.34"/>
<rect x="270.10" y="185.18" width="83.55" height="0.72" fill="#5f78d6" opacity="0.19"/>
<rect x="270.10" y="141.66" width="83.55" height="0.80" fill="#3c50c0" opacity="0.24"/>
<rect x="270.10" y="179.88" width="83.55" height="0.68" fill="#3c50c0" opacity="0.17"/>
<rect x="270.10" y="217.44" width="83.55" height="0.63" fill="#3c50c0" opacity="0.23"/>
<rect x="270.10" y="155.61" width="83.55" height="1.07" fill="#3c50c0" opacity="0.27"/>
<rect x="270.10" y="183.04" width="83.55" height="1.18" fill="#5f78d6" opacity="0.30"/>
<rect x="270.10" y="205.92" width="83.55" height="0.94" fill="#5f78d6" opacity="0.29"/>
<rect x="270.10" y="196.66" width="83.55" height="0.54" fill="#5f78d6" opacity="0.30"/>
<rect x="270.10" y="216.86" width="83.55" height="0.63" fill="#3c50c0" opacity="0.32"/>
<rect x="270.10" y="189.60" width="83.55" height="1.30" fill="#3c50c0" opacity="0.17"/>
<rect x="270.10" y="124.80" width="83.55" height="1.07" fill="#3c50c0" opacity="0.23"/>
<rect x="270.10" y="173.74" width="83.55" height="0.55" fill="#3c50c0" opacity="0.28"/>
<rect x="270.10" y="201.14" width="83.55" height="0.94" fill="#3c50c0" opacity="0.24"/>
<rect x="270.10" y="128.18" width="83.55" height="1.34" fill="#3c50c0" opacity="0.28"/>
<rect x="270.10" y="127.69" width="83.55" height="1.16" fill="#5f78d6" opacity="0.31"/>
<rect x="270.10" y="220.91" width="83.55" height="0.71" fill="#3c50c0" opacity="0.20"/>
<rect x="270.10" y="197.47" width="83.55" height="0.91" fill="#5f78d6" opacity="0.17"/>
<rect x="270.10" y="228.60" width="83.55" height="0.76" fill="#3c50c0" opacity="0.27"/>
<rect x="270.10" y="196.61" width="83.55" height="0.57" fill="#3c50c0" opacity="0.22"/>
<rect x="270.10" y="197.66" width="83.55" height="1.12" fill="#3c50c0" opacity="0.15"/>
<rect x="270.10" y="127.05" width="83.55" height="0.74" fill="#3c50c0" opacity="0.29"/>
<rect x="270.10" y="200.55" width="83.55" height="0.76" fill="#5f78d6" opacity="0.24"/>
<rect x="270.10" y="175.53" width="83.55" height="0.61" fill="#3c50c0" opacity="0.21"/>
<rect x="270.10" y="130.06" width="83.55" height="0.93" fill="#5f78d6" opacity="0.24"/>
<rect x="270.10" y="217.78" width="83.55" height="1.37" fill="#5f78d6" opacity="0.35"/>
<rect x="270.10" y="166.03" width="83.55" height="1.32" fill="#3c50c0" opacity="0.16"/>
<rect x="270.10" y="130.59" width="83.55" height="1.17" fill="#5f78d6" opacity="0.34"/>
<rect x="270.10" y="135.65" width="83.55" height="1.24" fill="#5f78d6" opacity="0.33"/>
<rect x="270.10" y="90.12" width="83.55" height="0.71" fill="#f28f5c" opacity="0.25"/>
<rect x="270.10" y="37.87" width="83.55" height="1.35" fill="#f28f5c" opacity="0.25"/>
<rect x="270.10" y="92.41" width="83.55" height="0.87" fill="#f28f5c" opacity="0.23"/>
<rect x="270.10" y="103.26" width="83.55" height="0.50" fill="#f28f5c" opacity="0.36"/>
<rect x="270.10" y="34.12" width="83.55" height="1.33" fill="#f7a77c" opacity="0.38"/>
<rect x="270.10" y="50.42" width="83.55" height="0.83" fill="#f28f5c" opacity="0.25"/>
<rect x="270.10" y="106.12" width="83.55" height="0.57" fill="#f28f5c" opacity="0.34"/>
<rect x="270.10" y="104.61" width="83.55" height="0.75" fill="#f7a77c" opacity="0.36"/>
<rect x="270.10" y="50.02" width="83.55" height="1.34" fill="#f7a77c" opacity="0.39"/>
<rect x="270.10" y="64.48" width="83.55" height="0.78" fill="#f28f5c" opacity="0.35"/>
<rect x="270.10" y="63.66" width="83.55" height="0.53" fill="#f28f5c" opacity="0.38"/>
<rect x="270.10" y="112.91" width="83.55" height="0.99" fill="#f7a77c" opacity="0.16"/>
<rect x="270.10" y="92.91" width="83.55" height="0.91" fill="#f7a77c" opacity="0.31"/>
<rect x="270.10" y="50.08" width="83.55" height="0.54" fill="#f7a77c" opacity="0.19"/>
<rect x="270.10" y="62.43" width="83.55" height="0.75" fill="#f28f5c" opacity="0.33"/>
<rect x="270.10" y="116.32" width="83.55" height="0.73" fill="#f7a77c" opacity="0.23"/>
<rect x="270.10" y="76.10" width="83.55" height="0.85" fill="#f7a77c" opacity="0.31"/>
<rect x="270.10" y="29.82" width="83.55" height="0.95" fill="#f28f5c" opacity="0.29"/>
<rect x="270.10" y="66.09" width="83.55" height="0.80" fill="#f28f5c" opacity="0.26"/>
<rect x="270.10" y="75.19" width="83.55" height="0.72" fill="#f7a77c" opacity="0.24"/>
<rect x="270.10" y="31.35" width="83.55" height="0.72" fill="#f28f5c" opacity="0.35"/>
<rect x="270.10" y="42.01" width="83.55" height="0.52" fill="#f28f5c" opacity="0.25"/>
<rect x="270.10" y="94.20" width="83.55" height="0.69" fill="#f28f5c" opacity="0.23"/>
<rect x="270.10" y="28.56" width="83.55" height="0.75" fill="#f28f5c" opacity="0.18"/>
<rect x="270.10" y="70.93" width="83.55" height="1.07" fill="#f7a77c" opacity="0.17"/>
<rect x="270.10" y="108.69" width="83.55" height="0.85" fill="#f28f5c" opacity="0.26"/>
<rect x="270.10" y="52.55" width="83.55" height="1.23" fill="#f7a77c" opacity="0.18"/>
<rect x="270.10" y="63.42" width="83.55" height="1.19" fill="#f28f5c" opacity="0.39"/>
<rect x="270.10" y="69.62" width="83.55" height="0.57" fill="#f28f5c" opacity="0.39"/>
<rect x="270.10" y="46.45" width="83.55" height="0.60" fill="#f7a77c" opacity="0.19"/>
<rect x="353.65" y="235.94" width="83.55" height="0.60" fill="#f28f5c" opacity="0.17"/>
<rect x="353.65" y="212.63" width="83.55" height="0.50" fill="#f7a77c" opacity="0.21"/>
<rect x="353.65" y="229.73" width="83.55" height="1.08" fill="#f28f5c" opacity="0.39"/>
<rect x="353.65" y="194.66" width="83.55" height="0.98" fill="#f28f5c" opacity="0.32"/>
<rect x="353.65" y="133.20" width="83.55" height="0.56" fill="#f7a77c" opacity="0.25"/>
<rect x="353.65" y="146.52" width="83.55" height="1.04" fill="#f7a77c" opacity="0.28"/>
<rect x="353.65" y="238.87" width="83.55" height="0.75" fill="#f28f5c" opacity="0.31"/>
<rect x="353.65" y="225.41" width="83.55" height="0.93" fill="#f7a77c" opacity="0.29"/>
<rect x="353.65" y="123.30" width="83.55" height="0.87" fill="#f28f5c" opacity="0.16"/>
<rect x="353.65" y="143.00" width="83.55" height="1.30" fill="#f28f5c" opacity="0.17"/>
<rect x="353.65" y="147.03" width="83.55" height="0.88" fill="#f28f5c" opacity="0.21"/>
<rect x="353.65" y="123.87" width="83.55" height="0.80" fill="#f28f5c" opacity="0.24"/>
<rect x="353.65" y="167.16" width="83.55" height="0.51" fill="#f28f5c" opacity="0.33"/>
<rect x="353.65" y="180.13" width="83.55" height="0.68" fill="#f7a77c" opacity="0.23"/>
<rect x="353.65" y="217.79" width="83.55" height="0.71" fill="#f7a77c" opacity="0.22"/>
<rect x="353.65" y="226.08" width="83.55" height="0.60" fill="#f28f5c" opacity="0.30"/>
<rect x="353.65" y="226.93" width="83.55" height="0.94" fill="#f7a77c" opacity="0.39"/>
<rect x="353.65" y="137.29" width="83.55" height="0.85" fill="#f7a77c" opacity="0.16"/>
<rect x="353.65" y="191.04" width="83.55" height="0.87" fill="#f7a77c" opacity="0.20"/>
<rect x="353.65" y="173.53" width="83.55" height="1.14" fill="#f28f5c" opacity="0.33"/>
<rect x="353.65" y="239.00" width="83.55" height="1.34" fill="#f28f5c" opacity="0.20"/>
<rect x="353.65" y="197.77" width="83.55" height="0.97" fill="#f28f5c" opacity="0.16"/>
<rect x="353.65" y="199.20" width="83.55" height="0.84" fill="#f28f5c" opacity="0.40"/>
<rect x="353.65" y="172.67" width="83.55" height="0.60" fill="#f7a77c" opacity="0.22"/>
<rect x="353.65" y="161.80" width="83.55" height="1.36" fill="#f7a77c" opacity="0.29"/>
<rect x="353.65" y="210.48" width="83.55" height="0.84" fill="#f28f5c" opacity="0.36"/>
<rect x="353.65" y="171.48" width="83.55" height="0.54" fill="#f28f5c" opacity="0.20"/>
<rect x="353.65" y="184.51" width="83.55" height="0.90" fill="#f28f5c" opacity="0.24"/>
<rect x="353.65" y="226.99" width="83.55" height="0.53" fill="#f28f5c" opacity="0.21"/>
<rect x="353.65" y="194.54" width="83.55" height="0.86" fill="#f28f5c" opacity="0.16"/>
<rect x="353.65" y="127.28" width="83.55" height="1.33" fill="#f28f5c" opacity="0.20"/>
<rect x="353.65" y="127.31" width="83.55" height="1.05" fill="#f28f5c" opacity="0.22"/>
<rect x="353.65" y="234.24" width="83.55" height="1.06" fill="#f28f5c" opacity="0.34"/>
<rect x="353.65" y="202.20" width="83.55" height="1.33" fill="#f28f5c" opacity="0.15"/>
<rect x="353.65" y="210.10" width="83.55" height="1.32" fill="#f7a77c" opacity="0.16"/>
<rect x="353.65" y="147.75" width="83.55" height="0.93" fill="#f28f5c" opacity="0.39"/>
<rect x="353.65" y="165.99" width="83.55" height="0.73" fill="#f28f5c" opacity="0.35"/>
<rect x="353.65" y="135.66" width="83.55" height="0.95" fill="#f7a77c" opacity="0.35"/>
<rect x="353.65" y="208.05" width="83.55" height="1.24" fill="#f7a77c" opacity="0.30"/>
<rect x="353.65" y="158.97" width="83.55" height="0.79" fill="#f28f5c" opacity="0.35"/>
<rect x="395.42" y="119.80" width="41.77" height="120.70" fill="#f6a274" opacity="0.4"/>
<rect x="270.10" y="22.60" width="167.10" height="0.70" fill="#ffffff" opacity="0.3"/>
<path d="M290.99 16.0 H332.76 M311.88 16.0 V10.7 H395.43 V16.0 M374.54 16.0 H416.31" fill="none" stroke="#333" stroke-width="0.7"/>
<path d="M439.2 23.0 H443.6 Q444.8 23.0 444.8 24.2 V117.2 Q444.8 118.4 443.6 118.4 H439.2" fill="none" stroke="#333" stroke-width="0.8"/>
<path d="M439.2 120.6 H443.6 Q444.8 120.6 444.8 121.8 V238.7 Q444.8 239.9 443.6 239.9 H439.2" fill="none" stroke="#333" stroke-width="0.8"/>
<text transform="translate(451.20,76.80) rotate(0.03)" font-size="6.3" stroke="#1a1a1a" stroke-width="0.1">EMT</text>
<text transform="translate(450.80,170.80) rotate(0.03)" font-size="6.5" stroke="#1a1a1a" stroke-width="0.1">Estrogen response</text>
<text transform="translate(450.80,188.80) rotate(0.03)" font-size="6.5" stroke="#1a1a1a" stroke-width="0.1">Interferon response</text>
<text transform="translate(297.40,246.2) rotate(-45)" text-anchor="end" font-size="6.25" fill="#222" stroke="#222" stroke-width="0.15">PDX1415 c752</text>
<text transform="translate(337.00,246.2) rotate(-45)" text-anchor="end" font-size="6.25" fill="#222" stroke="#222" stroke-width="0.15">PDX1415 c734</text>
<text transform="translate(380.80,246.2) rotate(-45)" text-anchor="end" font-size="6.25" fill="#222" stroke="#222" stroke-width="0.15">PDX1526 c987</text>
<text transform="translate(421.90,246.2) rotate(-45)" text-anchor="end" font-size="6.25" fill="#222" stroke="#222" stroke-width="0.15">PDX1526 c968</text>
</g>
<g id="panelC">
<text transform="translate(1.00,309.00) rotate(0.03) scale(1.1,1)" font-size="12" font-weight="bold" fill="#000" stroke="#000" stroke-width="0.4">C</text>
<rect x="23.80" y="309.20" width="157.10" height="82.80" fill="#ffffff"/>
<line x1="23.80" y1="313.00" x2="180.90" y2="313.00" stroke="#ebebeb" stroke-width="0.5"/>
<line x1="23.80" y1="331.80" x2="180.90" y2="331.80" stroke="#ebebeb" stroke-width="0.5"/>
<line x1="23.80" y1="350.60" x2="180.90" y2="350.60" stroke="#ebebeb" stroke-width="0.5"/>
<line x1="23.80" y1="369.40" x2="180.90" y2="369.40" stroke="#ebebeb" stroke-width="0.5"/>
<line x1="23.80" y1="388.20" x2="180.90" y2="388.20" stroke="#ebebeb" stroke-width="0.5"/>
<line x1="23.80" y1="322.40" x2="180.90" y2="322.40" stroke="#f3f3f3" stroke-width="0.3"/>
<line x1="23.80" y1="341.20" x2="180.90" y2="341.20" stroke="#f3f3f3" stroke-width="0.3"/>
<line x1="23.80" y1="360.00" x2="180.90" y2="360.00" stroke="#f3f3f3" stroke-width="0.3"/>
<line x1="23.80" y1="378.80" x2="180.90" y2="378.80" stroke="#f3f3f3" stroke-width="0.3"/>
<line x1="36.40" y1="309.20" x2="36.40" y2="392.00" stroke="#ebebeb" stroke-width="0.5"/>
<line x1="58.28" y1="309.20" x2="58.28" y2="392.00" stroke="#ebebeb" stroke-width="0.5"/>
<line x1="80.16" y1="309.20" x2="80.16" y2="392.00" stroke="#ebebeb" stroke-width="0.5"/>
<line x1="102.04" y1="309.20" x2="102.04" y2="392.00" stroke="#ebebeb" stroke-width="0.5"/>
<line x1="123.92" y1="309.20" x2="123.92" y2="392.00" stroke="#ebebeb" stroke-width="0.5"/>
<line x1="145.80" y1="309.20" x2="145.80" y2="392.00" stroke="#ebebeb" stroke-width="0.5"/>
<line x1="167.68" y1="309.20" x2="167.68" y2="392.00" stroke="#ebebeb" stroke-width="0.5"/>
<line x1="23.80" y1="350.60" x2="180.90" y2="350.60" stroke="#444" stroke-width="1.05"/>
<line x1="23.80" y1="331.80" x2="180.90" y2="331.80" stroke="#444" stroke-width="1.25" stroke-dasharray="3.8 2.6"/>
<line x1="23.80" y1="369.40" x2="180.90" y2="369.40" stroke="#444" stroke-width="1.25" stroke-dasharray="3.8 2.6"/>
<rect x="23.80" y="309.20" width="157.10" height="82.80" fill="none" stroke="#444" stroke-width="0.7"/>
<line x1="22.20" y1="313.00" x2="23.80" y2="313.00" stroke="#444" stroke-width="0.5"/>
<text transform="translate(21.20,314.90) rotate(0.03)" font-size="5.3" text-anchor="end" fill="#4d4d4d" stroke="#4d4d4d" stroke-width="0.1">2</text>
<line x1="22.20" y1="331.80" x2="23.80" y2="331.80" stroke="#444" stroke-width="0.5"/>
<text transform="translate(21.20,333.70) rotate(0.03)" font-size="5.3" text-anchor="end" fill="#4d4d4d" stroke="#4d4d4d" stroke-width="0.1">1</text>
<line x1="22.20" y1="350.60" x2="23.80" y2="350.60" stroke="#444" stroke-width="0.5"/>
<text transform="translate(21.20,352.50) rotate(0.03)" font-size="5.3" text-anchor="end" fill="#4d4d4d" stroke="#4d4d4d" stroke-width="0.1">0</text>
<line x1="22.20" y1="369.40" x2="23.80" y2="369.40" stroke="#444" stroke-width="0.5"/>
<text transform="translate(21.20,371.30) rotate(0.03)" font-size="5.3" text-anchor="end" fill="#4d4d4d" stroke="#4d4d4d" stroke-width="0.1">−1</text>
<line x1="22.20" y1="388.20" x2="23.80" y2="388.20" stroke="#444" stroke-width="0.5"/>
<text transform="translate(21.20,390.10) rotate(0.03)" font-size="5.3" text-anchor="end" fill="#4d4d4d" stroke="#4d4d4d" stroke-width="0.1">−2</text>
<line x1="36.40" y1="392.00" x2="36.40" y2="393.60" stroke="#444" stroke-width="0.5"/>
<line x1="58.28" y1="392.00" x2="58.28" y2="393.60" stroke="#444" stroke-width="0.5"/>
<line x1="80.16" y1="392.00" x2="80.16" y2="393.60" stroke="#444" stroke-width="0.5"/>
<line x1="102.04" y1="392.00" x2="102.04" y2="393.60" stroke="#444" stroke-width="0.5"/>
<line x1="123.92" y1="392.00" x2="123.92" y2="393.60" stroke="#444" stroke-width="0.5"/>
<line x1="145.80" y1="392.00" x2="145.80" y2="393.60" stroke="#444" stroke-width="0.5"/>
<line x1="167.68" y1="392.00" x2="167.68" y2="393.60" stroke="#444" stroke-width="0.5"/>
<circle cx="36.40" cy="324.50" r="2.60" fill="#0a219d"/>
<circle cx="58.28" cy="322.70" r="3.80" fill="#0a219d"/>
<circle cx="80.16" cy="324.70" r="3.00" fill="#0a219d"/>
<circle cx="102.04" cy="318.70" r="4.60" fill="#0a219d"/>
<circle cx="123.92" cy="320.80" r="4.50" fill="#0a219d"/>
<circle cx="145.80" cy="324.80" r="2.80" fill="#0a219d"/>
<circle cx="167.68" cy="379.20" r="3.10" fill="#0a219d"/>
<text transform="translate(10.2,350.2) rotate(-90.03)" text-anchor="middle" font-size="6.85" fill="#222" stroke="#222" stroke-width="0.12">NES, Mut vs. WT</text>
<g font-size="5.55" text-anchor="end" fill="#444">
<text transform="translate(37.50,398.15) rotate(-45)">E2F_TARGETS</text>
<text transform="translate(57.45,398.45) rotate(-45)">ESTROGEN_</text>
<text transform="translate(62.15,403.15) rotate(-45)">RESPONSE_EARLY</text>
<text transform="translate(82.85,398.90) rotate(-45)">ESTROGEN_</text>
<text transform="translate(87.55,403.80) rotate(-45)">RESPONSE_LATE</text>
<text transform="translate(105.95,399.75) rotate(-45)">INTERFERON_</text>
<text transform="translate(110.65,404.45) rotate(-45)">ALPHA_RESPONSE</text>
<text transform="translate(128.10,400.00) rotate(-45)">INTERFERON_</text>
<text transform="translate(132.80,404.70) rotate(-45)">GAMMA_RESPONSE</text>
<text transform="translate(153.00,399.05) rotate(-45)">MYC_TARGETS_V2</text>
<text transform="translate(173.60,399.60) rotate(-45)">REACTIVE_OXYGEN_</text>
<text transform="translate(175.40,407.20) rotate(-45)">SPECIES_PATHWAY</text>
</g>
<text transform="translate(187.60,334.20) rotate(0.03)" font-size="6.8" fill="#222" stroke="#222" stroke-width="0.1">FDR qval</text>
<circle cx="192.6" cy="344.20" r="1.90" fill="#0a219d"/>
<text transform="translate(200.80,346.20) rotate(0.03)" font-size="5.9" fill="#222" stroke="#222" stroke-width="0.1">0.25</text>
<circle cx="192.6" cy="355.00" r="3.60" fill="#0a219d"/>
<text transform="translate(200.80,357.00) rotate(0.03)" font-size="5.9" fill="#222" stroke="#222" stroke-width="0.1">0.10</text>
<circle cx="192.6" cy="366.90" r="4.60" fill="#0a219d"/>
<text transform="translate(200.80,368.90) rotate(0.03)" font-size="5.9" fill="#222" stroke="#222" stroke-width="0.1">0.00</text>
</g>
<g id="panelD">
<text transform="translate(264.50,303.50) rotate(0.03) scale(1.1,1)" font-size="12" font-weight="bold" fill="#000" stroke="#000" stroke-width="0.4">D</text>
<text transform="translate(372.50,304.00) rotate(0.03)" font-size="6.55" font-weight="bold" text-anchor="middle" fill="#111" stroke="#111" stroke-width="0.1">PDX1415 WT</text>
<line x1="303.20" y1="310.55" x2="303.20" y2="424.00" stroke="#0a0a0a" stroke-width="1.25"/>
<line x1="302.60" y1="423.40" x2="443.00" y2="423.40" stroke="#0a0a0a" stroke-width="1.25"/>
<line x1="300.20" y1="311.00" x2="303.20" y2="311.00" stroke="#0a0a0a" stroke-width="1.05"/>
<text transform="translate(297.60,313.25) rotate(0.03)" font-size="6.4" font-weight="bold" text-anchor="end" fill="#111" stroke="#111" stroke-width="0.2">2,000</text>
<line x1="300.20" y1="339.10" x2="303.20" y2="339.10" stroke="#0a0a0a" stroke-width="1.05"/>
<text transform="translate(297.60,341.35) rotate(0.03)" font-size="6.4" font-weight="bold" text-anchor="end" fill="#111" stroke="#111" stroke-width="0.2">1,500</text>
<line x1="300.20" y1="367.20" x2="303.20" y2="367.20" stroke="#0a0a0a" stroke-width="1.05"/>
<text transform="translate(297.60,369.45) rotate(0.03)" font-size="6.4" font-weight="bold" text-anchor="end" fill="#111" stroke="#111" stroke-width="0.2">1,000</text>
<line x1="300.20" y1="395.30" x2="303.20" y2="395.30" stroke="#0a0a0a" stroke-width="1.05"/>
<text transform="translate(297.60,397.55) rotate(0.03)" font-size="6.4" font-weight="bold" text-anchor="end" fill="#111" stroke="#111" stroke-width="0.2">500</text>
<line x1="300.20" y1="423.40" x2="303.20" y2="423.40" stroke="#0a0a0a" stroke-width="1.05"/>
<text transform="translate(297.60,425.65) rotate(0.03)" font-size="6.4" font-weight="bold" text-anchor="end" fill="#111" stroke="#111" stroke-width="0.2">0</text>
<line x1="313.00" y1="423.40" x2="313.00" y2="426.40" stroke="#0a0a0a" stroke-width="1.05"/>
<text transform="translate(313.00,434.50) rotate(0.03)" font-size="6.4" font-weight="bold" text-anchor="middle" fill="#111" stroke="#111" stroke-width="0.2">0</text>
<line x1="327.85" y1="423.40" x2="327.85" y2="426.40" stroke="#0a0a0a" stroke-width="1.05"/>
<text transform="translate(327.85,434.50) rotate(0.03)" font-size="6.4" font-weight="bold" text-anchor="middle" fill="#111" stroke="#111" stroke-width="0.2">4</text>
<line x1="342.70" y1="423.40" x2="342.70" y2="426.40" stroke="#0a0a0a" stroke-width="1.05"/>
<text transform="translate(342.70,434.50) rotate(0.03)" font-size="6.4" font-weight="bold" text-anchor="middle" fill="#111" stroke="#111" stroke-width="0.2">7</text>
<line x1="357.55" y1="423.40" x2="357.55" y2="426.40" stroke="#0a0a0a" stroke-width="1.05"/>
<text transform="translate(357.55,434.50) rotate(0.03)" font-size="6.4" font-weight="bold" text-anchor="middle" fill="#111" stroke="#111" stroke-width="0.2">11</text>
<line x1="372.40" y1="423.40" x2="372.40" y2="426.40" stroke="#0a0a0a" stroke-width="1.05"/>
<text transform="translate(372.40,434.50) rotate(0.03)" font-size="6.4" font-weight="bold" text-anchor="middle" fill="#111" stroke="#111" stroke-width="0.2">14</text>
<line x1="387.25" y1="423.40" x2="387.25" y2="426.40" stroke="#0a0a0a" stroke-width="1.05"/>
<text transform="translate(387.25,434.50) rotate(0.03)" font-size="6.4" font-weight="bold" text-anchor="middle" fill="#111" stroke="#111" stroke-width="0.2">18</text>
<line x1="402.10" y1="423.40" x2="402.10" y2="426.40" stroke="#0a0a0a" stroke-width="1.05"/>
<text transform="translate(402.10,434.50) rotate(0.03)" font-size="6.4" font-weight="bold" text-anchor="middle" fill="#111" stroke="#111" stroke-width="0.2">21</text>
<line x1="416.95" y1="423.40" x2="416.95" y2="426.40" stroke="#0a0a0a" stroke-width="1.05"/>
<text transform="translate(416.95,434.50) rotate(0.03)" font-size="6.4" font-weight="bold" text-anchor="middle" fill="#111" stroke="#111" stroke-width="0.2">25</text>
<line x1="431.80" y1="423.40" x2="431.80" y2="426.40" stroke="#0a0a0a" stroke-width="1.05"/>
<text transform="translate(431.80,434.50) rotate(0.03)" font-size="6.4" font-weight="bold" text-anchor="middle" fill="#111" stroke="#111" stroke-width="0.2">28</text>
<text transform="translate(277.00,365.10) rotate(-90.03)" text-anchor="middle" font-size="6.55" font-weight="bold" fill="#111" stroke="#111" stroke-width="0.1">Tumor volume mm<tspan font-size="4.2" dy="-2.4">3</tspan></text>
<text transform="translate(370.90,444.20) rotate(0.03)" font-size="6.55" font-weight="bold" text-anchor="middle" fill="#111" stroke="#111" stroke-width="0.1">Days on treatment</text>
<path d="M327.85 409.80 V411.80 M325.55 409.80 H330.15 M325.55 411.80 H330.15" stroke="#1f7ae0" stroke-width="0.9" fill="none"/>
<path d="M342.70 406.80 V409.80 M340.40 406.80 H345.00 M340.40 409.80 H345.00" stroke="#1f7ae0" stroke-width="0.9" fill="none"/>
<path d="M357.55 402.60 V406.60 M355.25 402.60 H359.85 M355.25 406.60 H359.85" stroke="#1f7ae0" stroke-width="0.9" fill="none"/>
<path d="M372.40 400.50 V405.50 M370.10 400.50 H374.70 M370.10 405.50 H374.70" stroke="#1f7ae0" stroke-width="0.9" fill="none"/>
<path d="M387.25 397.30 V403.30 M384.95 397.30 H389.55 M384.95 403.30 H389.55" stroke="#1f7ae0" stroke-width="0.9" fill="none"/>
<path d="M402.10 393.00 V399.00 M399.80 393.00 H404.40 M399.80 399.00 H404.40" stroke="#1f7ae0" stroke-width="0.9" fill="none"/>
<path d="M416.95 389.90 V396.90 M414.65 389.90 H419.25 M414.65 396.90 H419.25" stroke="#1f7ae0" stroke-width="0.9" fill="none"/>
<path d="M431.80 384.80 V398.80 M429.50 384.80 H434.10 M429.50 398.80 H434.10" stroke="#1f7ae0" stroke-width="0.9" fill="none"/>
<polyline points="313.00,414.50 327.85,410.80 342.70,408.30 357.55,404.60 372.40,403.00 387.25,400.30 402.10,396.00 416.95,393.40 431.80,391.80" fill="none" stroke="#1f7ae0" stroke-width="1.05"/>
<circle cx="313.00" cy="414.50" r="2.45" fill="#1f7ae0" stroke="#1861b3" stroke-width="0.5"/>
<circle cx="327.85" cy="410.80" r="2.45" fill="#1f7ae0" stroke="#1861b3" stroke-width="0.5"/>
<circle cx="342.70" cy="408.30" r="2.45" fill="#1f7ae0" stroke="#1861b3" stroke-width="0.5"/>
<circle cx="357.55" cy="404.60" r="2.45" fill="#1f7ae0" stroke="#1861b3" stroke-width="0.5"/>
<circle cx="372.40" cy="403.00" r="2.45" fill="#1f7ae0" stroke="#1861b3" stroke-width="0.5"/>
<circle cx="387.25" cy="400.30" r="2.45" fill="#1f7ae0" stroke="#1861b3" stroke-width="0.5"/>
<circle cx="402.10" cy="396.00" r="2.45" fill="#1f7ae0" stroke="#1861b3" stroke-width="0.5"/>
<circle cx="416.95" cy="393.40" r="2.45" fill="#1f7ae0" stroke="#1861b3" stroke-width="0.5"/>
<circle cx="431.80" cy="391.80" r="2.45" fill="#1f7ae0" stroke="#1861b3" stroke-width="0.5"/>
<path d="M327.85 406.80 V409.80 M325.55 406.80 H330.15 M325.55 409.80 H330.15" stroke="#3ab882" stroke-width="0.9" fill="none"/>
<path d="M342.70 402.00 V406.00 M340.40 402.00 H345.00 M340.40 406.00 H345.00" stroke="#3ab882" stroke-width="0.9" fill="none"/>
<path d="M357.55 390.80 V396.80 M355.25 390.80 H359.85 M355.25 396.80 H359.85" stroke="#3ab882" stroke-width="0.9" fill="none"/>
<path d="M372.40 384.00 V390.00 M370.10 384.00 H374.70 M370.10 390.00 H374.70" stroke="#3ab882" stroke-width="0.9" fill="none"/>
<path d="M387.25 371.40 V379.40 M384.95 371.40 H389.55 M384.95 379.40 H389.55" stroke="#3ab882" stroke-width="0.9" fill="none"/>
<path d="M402.10 361.20 V371.20 M399.80 361.20 H404.40 M399.80 371.20 H404.40" stroke="#3ab882" stroke-width="0.9" fill="none"/>
<path d="M416.95 342.50 V354.50 M414.65 342.50 H419.25 M414.65 354.50 H419.25" stroke="#3ab882" stroke-width="0.9" fill="none"/>
<path d="M431.80 342.00 V354.00 M429.50 342.00 H434.10 M429.50 354.00 H434.10" stroke="#3ab882" stroke-width="0.9" fill="none"/>
<polyline points="313.00,413.80 327.85,408.30 342.70,404.00 357.55,393.80 372.40,387.00 387.25,375.40 402.10,366.20 416.95,348.50 431.80,348.00" fill="none" stroke="#3ab882" stroke-width="1.05"/>
<circle cx="313.00" cy="413.80" r="2.45" fill="#3ab882" stroke="#2e9368" stroke-width="0.5"/>
<circle cx="327.85" cy="408.30" r="2.45" fill="#3ab882" stroke="#2e9368" stroke-width="0.5"/>
<circle cx="342.70" cy="404.00" r="2.45" fill="#3ab882" stroke="#2e9368" stroke-width="0.5"/>
<circle cx="357.55" cy="393.80" r="2.45" fill="#3ab882" stroke="#2e9368" stroke-width="0.5"/>
<circle cx="372.40" cy="387.00" r="2.45" fill="#3ab882" stroke="#2e9368" stroke-width="0.5"/>
<circle cx="387.25" cy="375.40" r="2.45" fill="#3ab882" stroke="#2e9368" stroke-width="0.5"/>
<circle cx="402.10" cy="366.20" r="2.45" fill="#3ab882" stroke="#2e9368" stroke-width="0.5"/>
<circle cx="416.95" cy="348.50" r="2.45" fill="#3ab882" stroke="#2e9368" stroke-width="0.5"/>
<circle cx="431.80" cy="348.00" r="2.45" fill="#3ab882" stroke="#2e9368" stroke-width="0.5"/>
<path d="M327.85 409.90 V412.90 M325.55 409.90 H330.15 M325.55 412.90 H330.15" stroke="#f28a1f" stroke-width="0.9" fill="none"/>
<path d="M342.70 405.80 V410.80 M340.40 405.80 H345.00 M340.40 410.80 H345.00" stroke="#f28a1f" stroke-width="0.9" fill="none"/>
<path d="M357.55 394.50 V402.50 M355.25 394.50 H359.85 M355.25 402.50 H359.85" stroke="#f28a1f" stroke-width="0.9" fill="none"/>
<path d="M372.40 391.60 V401.60 M370.10 391.60 H374.70 M370.10 401.60 H374.70" stroke="#f28a1f" stroke-width="0.9" fill="none"/>
<path d="M387.25 381.00 V395.00 M384.95 381.00 H389.55 M384.95 395.00 H389.55" stroke="#f28a1f" stroke-width="0.9" fill="none"/>
<path d="M402.10 379.20 V393.20 M399.80 379.20 H404.40 M399.80 393.20 H404.40" stroke="#f28a1f" stroke-width="0.9" fill="none"/>
<path d="M416.95 361.80 V385.80 M414.65 361.80 H419.25 M414.65 385.80 H419.25" stroke="#f28a1f" stroke-width="0.9" fill="none"/>
<path d="M431.80 352.90 V379.90 M429.50 352.90 H434.10 M429.50 379.90 H434.10" stroke="#f28a1f" stroke-width="0.9" fill="none"/>
<polyline points="313.00,414.50 327.85,411.40 342.70,408.30 357.55,398.50 372.40,396.60 387.25,388.00 402.10,386.20 416.95,373.80 431.80,366.40" fill="none" stroke="#f28a1f" stroke-width="1.05"/>
<circle cx="313.00" cy="414.50" r="2.45" fill="#f28a1f" stroke="#c16e18" stroke-width="0.5"/>
<circle cx="327.85" cy="411.40" r="2.45" fill="#f28a1f" stroke="#c16e18" stroke-width="0.5"/>
<circle cx="342.70" cy="408.30" r="2.45" fill="#f28a1f" stroke="#c16e18" stroke-width="0.5"/>
<circle cx="357.55" cy="398.50" r="2.45" fill="#f28a1f" stroke="#c16e18" stroke-width="0.5"/>
<circle cx="372.40" cy="396.60" r="2.45" fill="#f28a1f" stroke="#c16e18" stroke-width="0.5"/>
<circle cx="387.25" cy="388.00" r="2.45" fill="#f28a1f" stroke="#c16e18" stroke-width="0.5"/>
<circle cx="402.10" cy="386.20" r="2.45" fill="#f28a1f" stroke="#c16e18" stroke-width="0.5"/>
<circle cx="416.95" cy="373.80" r="2.45" fill="#f28a1f" stroke="#c16e18" stroke-width="0.5"/>
<circle cx="431.80" cy="366.40" r="2.45" fill="#f28a1f" stroke="#c16e18" stroke-width="0.5"/>
<path d="M327.85 406.20 V409.20 M325.55 406.20 H330.15 M325.55 409.20 H330.15" stroke="#14269a" stroke-width="0.9" fill="none"/>
<path d="M342.70 399.70 V404.70 M340.40 399.70 H345.00 M340.40 404.70 H345.00" stroke="#14269a" stroke-width="0.9" fill="none"/>
<path d="M357.55 387.70 V395.70 M355.25 387.70 H359.85 M355.25 395.70 H359.85" stroke="#14269a" stroke-width="0.9" fill="none"/>
<path d="M372.40 382.50 V388.50 M370.10 382.50 H374.70 M370.10 388.50 H374.70" stroke="#14269a" stroke-width="0.9" fill="none"/>
<path d="M387.25 372.50 V382.50 M384.95 372.50 H389.55 M384.95 382.50 H389.55" stroke="#14269a" stroke-width="0.9" fill="none"/>
<path d="M402.10 364.80 V376.80 M399.80 364.80 H404.40 M399.80 376.80 H404.40" stroke="#14269a" stroke-width="0.9" fill="none"/>
<path d="M416.95 346.30 V370.30 M414.65 346.30 H419.25 M414.65 370.30 H419.25" stroke="#14269a" stroke-width="0.9" fill="none"/>
<path d="M431.80 318.30 V362.30 M429.50 318.30 H434.10 M429.50 362.30 H434.10" stroke="#14269a" stroke-width="0.9" fill="none"/>
<polyline points="313.00,413.80 327.85,407.70 342.70,402.20 357.55,391.70 372.40,385.50 387.25,377.50 402.10,370.80 416.95,358.30 431.80,340.30" fill="none" stroke="#14269a" stroke-width="1.05"/>
<circle cx="313.00" cy="413.80" r="2.45" fill="#14269a" stroke="#101e7b" stroke-width="0.5"/>
<circle cx="327.85" cy="407.70" r="2.45" fill="#14269a" stroke="#101e7b" stroke-width="0.5"/>
<circle cx="342.70" cy="402.20" r="2.45" fill="#14269a" stroke="#101e7b" stroke-width="0.5"/>
<circle cx="357.55" cy="391.70" r="2.45" fill="#14269a" stroke="#101e7b" stroke-width="0.5"/>
<circle cx="372.40" cy="385.50" r="2.45" fill="#14269a" stroke="#101e7b" stroke-width="0.5"/>
<circle cx="387.25" cy="377.50" r="2.45" fill="#14269a" stroke="#101e7b" stroke-width="0.5"/>
<circle cx="402.10" cy="370.80" r="2.45" fill="#14269a" stroke="#101e7b" stroke-width="0.5"/>
<circle cx="416.95" cy="358.30" r="2.45" fill="#14269a" stroke="#101e7b" stroke-width="0.5"/>
<circle cx="431.80" cy="340.30" r="2.45" fill="#14269a" stroke="#101e7b" stroke-width="0.5"/>
<line x1="313.40" y1="321.50" x2="321.00" y2="321.50" stroke="#14269a" stroke-width="1.1"/>
<circle cx="317.20" cy="321.50" r="2.30" fill="#14269a" stroke="#101e7b" stroke-width="0.5"/>
<text transform="translate(325.40,323.75) rotate(0.03)" font-size="6.4" stroke="#1a1a1a" stroke-width="0.28">Vehicle</text>
<line x1="313.40" y1="332.35" x2="321.00" y2="332.35" stroke="#f28a1f" stroke-width="1.1"/>
<circle cx="317.20" cy="332.35" r="2.30" fill="#f28a1f" stroke="#c16e18" stroke-width="0.5"/>
<text transform="translate(325.40,334.60) rotate(0.03)" font-size="6.4" stroke="#1a1a1a" stroke-width="0.28">Fulvestrant</text>
<line x1="313.40" y1="343.20" x2="321.00" y2="343.20" stroke="#3ab882" stroke-width="1.1"/>
<circle cx="317.20" cy="343.20" r="2.30" fill="#3ab882" stroke="#2e9368" stroke-width="0.5"/>
<text transform="translate(325.40,345.45) rotate(0.03)" font-size="6.4" stroke="#1a1a1a" stroke-width="0.28">SY-1365</text>
<line x1="313.40" y1="354.05" x2="321.00" y2="354.05" stroke="#1f7ae0" stroke-width="1.1"/>
<circle cx="317.20" cy="354.05" r="2.30" fill="#1f7ae0" stroke="#1861b3" stroke-width="0.5"/>
<text transform="translate(325.40,356.30) rotate(0.03)" font-size="6.4" stroke="#1a1a1a" stroke-width="0.28">Ful+SY</text>
<path d="M441.20 346.20 H443.80 V365.80 H441.20" fill="none" stroke="#555" stroke-width="1.1"/>
<path d="M441.20 365.80 H443.80 V391.60 H441.20" fill="none" stroke="#7a4a22" stroke-width="1.1"/>
<path d="M476.20 338.50 H479.20 V390.00 H476.20" fill="none" stroke="#444" stroke-width="1.1"/>
<path d="M482.80 346.60 H486.50 V390.00 H482.80" fill="none" stroke="#444" stroke-width="1.1"/>
<text transform="translate(445.60,355.60) rotate(0.03)" font-size="5.7" font-style="italic" fill="#333" stroke="#333" stroke-width="0.1">P = 0.013</text>
<text transform="translate(445.60,380.00) rotate(0.03)" font-size="5.7" font-style="italic" fill="#333" stroke="#333" stroke-width="0.1">P = 0.003</text>
<text transform="translate(480.20,343.00) rotate(0.03)" font-size="5.7" font-style="italic" fill="#333" stroke="#333" stroke-width="0.1">P &lt; 0.001</text>
<text transform="translate(487.20,366.60) rotate(0.03)" font-size="5.7" font-style="italic" fill="#333" stroke="#333" stroke-width="0.1">P &lt; 0.001</text>
</g>
<g id="panelE">
<text transform="translate(8.00,464.20) rotate(0.03) scale(1.1,1)" font-size="12" font-weight="bold" fill="#000" stroke="#000" stroke-width="0.4">E</text>
<text transform="translate(115.60,463.80) rotate(0.03)" font-size="6.55" font-weight="bold" text-anchor="middle" fill="#111" stroke="#111" stroke-width="0.1">PDX1526 Mut</text>
<line x1="44.00" y1="466.95" x2="44.00" y2="580.30" stroke="#0a0a0a" stroke-width="1.25"/>
<line x1="43.40" y1="579.70" x2="181.50" y2="579.70" stroke="#0a0a0a" stroke-width="1.25"/>
<line x1="41.00" y1="467.40" x2="44.00" y2="467.40" stroke="#0a0a0a" stroke-width="1.05"/>
<text transform="translate(38.60,469.65) rotate(0.03)" font-size="6.4" font-weight="bold" text-anchor="end" fill="#111" stroke="#111" stroke-width="0.2">1,000</text>
<line x1="41.00" y1="489.80" x2="44.00" y2="489.80" stroke="#0a0a0a" stroke-width="1.05"/>
<text transform="translate(38.60,492.05) rotate(0.03)" font-size="6.4" font-weight="bold" text-anchor="end" fill="#111" stroke="#111" stroke-width="0.2">800</text>
<line x1="41.00" y1="512.30" x2="44.00" y2="512.30" stroke="#0a0a0a" stroke-width="1.05"/>
<text transform="translate(38.60,514.55) rotate(0.03)" font-size="6.4" font-weight="bold" text-anchor="end" fill="#111" stroke="#111" stroke-width="0.2">600</text>
<line x1="41.00" y1="534.80" x2="44.00" y2="534.80" stroke="#0a0a0a" stroke-width="1.05"/>
<text transform="translate(38.60,537.05) rotate(0.03)" font-size="6.4" font-weight="bold" text-anchor="end" fill="#111" stroke="#111" stroke-width="0.2">400</text>
<line x1="41.00" y1="557.30" x2="44.00" y2="557.30" stroke="#0a0a0a" stroke-width="1.05"/>
<text transform="translate(38.60,559.55) rotate(0.03)" font-size="6.4" font-weight="bold" text-anchor="end" fill="#111" stroke="#111" stroke-width="0.2">200</text>
<line x1="41.00" y1="579.70" x2="44.00" y2="579.70" stroke="#0a0a0a" stroke-width="1.05"/>
<text transform="translate(38.60,581.95) rotate(0.03)" font-size="6.4" font-weight="bold" text-anchor="end" fill="#111" stroke="#111" stroke-width="0.2">0</text>
<line x1="57.80" y1="579.70" x2="57.80" y2="582.70" stroke="#0a0a0a" stroke-width="1.05"/>
<text transform="translate(57.80,591.40) rotate(0.03)" font-size="6.4" font-weight="bold" text-anchor="middle" fill="#111" stroke="#111" stroke-width="0.2">0</text>
<line x1="79.60" y1="579.70" x2="79.60" y2="582.70" stroke="#0a0a0a" stroke-width="1.05"/>
<text transform="translate(79.60,591.40) rotate(0.03)" font-size="6.4" font-weight="bold" text-anchor="middle" fill="#111" stroke="#111" stroke-width="0.2">7</text>
<line x1="101.40" y1="579.70" x2="101.40" y2="582.70" stroke="#0a0a0a" stroke-width="1.05"/>
<text transform="translate(101.40,591.40) rotate(0.03)" font-size="6.4" font-weight="bold" text-anchor="middle" fill="#111" stroke="#111" stroke-width="0.2">14</text>
<line x1="123.20" y1="579.70" x2="123.20" y2="582.70" stroke="#0a0a0a" stroke-width="1.05"/>
<text transform="translate(123.20,591.40) rotate(0.03)" font-size="6.4" font-weight="bold" text-anchor="middle" fill="#111" stroke="#111" stroke-width="0.2">17</text>
<line x1="145.00" y1="579.70" x2="145.00" y2="582.70" stroke="#0a0a0a" stroke-width="1.05"/>
<text transform="translate(145.00,591.40) rotate(0.03)" font-size="6.4" font-weight="bold" text-anchor="middle" fill="#111" stroke="#111" stroke-width="0.2">21</text>
<line x1="166.80" y1="579.70" x2="166.80" y2="582.70" stroke="#0a0a0a" stroke-width="1.05"/>
<text transform="translate(166.80,591.40) rotate(0.03)" font-size="6.4" font-weight="bold" text-anchor="middle" fill="#111" stroke="#111" stroke-width="0.2">28</text>
<text transform="translate(18.60,521.00) rotate(-90.03)" text-anchor="middle" font-size="6.55" font-weight="bold" fill="#111" stroke="#111" stroke-width="0.1">Tumor volume mm<tspan font-size="4.2" dy="-2.4">3</tspan></text>
<text transform="translate(121.00,602.20) rotate(0.03)" font-size="6.55" font-weight="bold" text-anchor="middle" fill="#111" stroke="#111" stroke-width="0.1">Days on treatment</text>
<path d="M57.80 541.80 V562.80 M55.50 541.80 H60.10 M55.50 562.80 H60.10" stroke="#1f7ae0" stroke-width="0.9" fill="none"/>
<path d="M79.60 555.00 V567.00 M77.30 555.00 H81.90 M77.30 567.00 H81.90" stroke="#1f7ae0" stroke-width="0.9" fill="none"/>
<path d="M101.40 550.50 V566.50 M99.10 550.50 H103.70 M99.10 566.50 H103.70" stroke="#1f7ae0" stroke-width="0.9" fill="none"/>
<path d="M123.20 559.00 V569.00 M120.90 559.00 H125.50 M120.90 569.00 H125.50" stroke="#1f7ae0" stroke-width="0.9" fill="none"/>
<path d="M145.00 550.00 V564.00 M142.70 550.00 H147.30 M142.70 564.00 H147.30" stroke="#1f7ae0" stroke-width="0.9" fill="none"/>
<path d="M166.80 550.00 V567.00 M164.50 550.00 H169.10 M164.50 567.00 H169.10" stroke="#1f7ae0" stroke-width="0.9" fill="none"/>
<polyline points="57.80,552.30 79.60,561.00 101.40,558.50 123.20,564.00 145.00,557.00 166.80,558.50" fill="none" stroke="#1f7ae0" stroke-width="1.05"/>
<circle cx="57.80" cy="552.30" r="2.45" fill="#1f7ae0" stroke="#1861b3" stroke-width="0.5"/>
<circle cx="79.60" cy="561.00" r="2.45" fill="#1f7ae0" stroke="#1861b3" stroke-width="0.5"/>
<circle cx="101.40" cy="558.50" r="2.45" fill="#1f7ae0" stroke="#1861b3" stroke-width="0.5"/>
<circle cx="123.20" cy="564.00" r="2.45" fill="#1f7ae0" stroke="#1861b3" stroke-width="0.5"/>
<circle cx="145.00" cy="557.00" r="2.45" fill="#1f7ae0" stroke="#1861b3" stroke-width="0.5"/>
<circle cx="166.80" cy="558.50" r="2.45" fill="#1f7ae0" stroke="#1861b3" stroke-width="0.5"/>
<path d="M57.80 551.00 V561.00 M55.50 551.00 H60.10 M55.50 561.00 H60.10" stroke="#3ab882" stroke-width="0.9" fill="none"/>
<path d="M79.60 554.00 V566.00 M77.30 554.00 H81.90 M77.30 566.00 H81.90" stroke="#3ab882" stroke-width="0.9" fill="none"/>
<path d="M101.40 547.80 V559.80 M99.10 547.80 H103.70 M99.10 559.80 H103.70" stroke="#3ab882" stroke-width="0.9" fill="none"/>
<path d="M123.20 553.00 V565.00 M120.90 553.00 H125.50 M120.90 565.00 H125.50" stroke="#3ab882" stroke-width="0.9" fill="none"/>
<path d="M145.00 545.30 V559.30 M142.70 545.30 H147.30 M142.70 559.30 H147.30" stroke="#3ab882" stroke-width="0.9" fill="none"/>
<path d="M166.80 523.20 V551.20 M164.50 523.20 H169.10 M164.50 551.20 H169.10" stroke="#3ab882" stroke-width="0.9" fill="none"/>
<polyline points="57.80,556.00 79.60,560.00 101.40,553.80 123.20,559.00 145.00,552.30 166.80,537.20" fill="none" stroke="#3ab882" stroke-width="1.05"/>
<circle cx="57.80" cy="556.00" r="2.45" fill="#3ab882" stroke="#2e9368" stroke-width="0.5"/>
<circle cx="79.60" cy="560.00" r="2.45" fill="#3ab882" stroke="#2e9368" stroke-width="0.5"/>
<circle cx="101.40" cy="553.80" r="2.45" fill="#3ab882" stroke="#2e9368" stroke-width="0.5"/>
<circle cx="123.20" cy="559.00" r="2.45" fill="#3ab882" stroke="#2e9368" stroke-width="0.5"/>
<circle cx="145.00" cy="552.30" r="2.45" fill="#3ab882" stroke="#2e9368" stroke-width="0.5"/>
<circle cx="166.80" cy="537.20" r="2.45" fill="#3ab882" stroke="#2e9368" stroke-width="0.5"/>
<path d="M57.80 553.50 V563.50 M55.50 553.50 H60.10 M55.50 563.50 H60.10" stroke="#f28a1f" stroke-width="0.9" fill="none"/>
<path d="M79.60 547.80 V561.80 M77.30 547.80 H81.90 M77.30 561.80 H81.90" stroke="#f28a1f" stroke-width="0.9" fill="none"/>
<path d="M101.40 541.80 V557.80 M99.10 541.80 H103.70 M99.10 557.80 H103.70" stroke="#f28a1f" stroke-width="0.9" fill="none"/>
<path d="M123.20 538.40 V556.40 M120.90 538.40 H125.50 M120.90 556.40 H125.50" stroke="#f28a1f" stroke-width="0.9" fill="none"/>
<path d="M145.00 536.50 V554.50 M142.70 536.50 H147.30 M142.70 554.50 H147.30" stroke="#f28a1f" stroke-width="0.9" fill="none"/>
<path d="M166.80 497.30 V527.30 M164.50 497.30 H169.10 M164.50 527.30 H169.10" stroke="#f28a1f" stroke-width="0.9" fill="none"/>
<polyline points="57.80,558.50 79.60,554.80 101.40,549.80 123.20,547.40 145.00,545.50 166.80,512.30" fill="none" stroke="#f28a1f" stroke-width="1.05"/>
<circle cx="57.80" cy="558.50" r="2.45" fill="#f28a1f" stroke="#c16e18" stroke-width="0.5"/>
<circle cx="79.60" cy="554.80" r="2.45" fill="#f28a1f" stroke="#c16e18" stroke-width="0.5"/>
<circle cx="101.40" cy="549.80" r="2.45" fill="#f28a1f" stroke="#c16e18" stroke-width="0.5"/>
<circle cx="123.20" cy="547.40" r="2.45" fill="#f28a1f" stroke="#c16e18" stroke-width="0.5"/>
<circle cx="145.00" cy="545.50" r="2.45" fill="#f28a1f" stroke="#c16e18" stroke-width="0.5"/>
<circle cx="166.80" cy="512.30" r="2.45" fill="#f28a1f" stroke="#c16e18" stroke-width="0.5"/>
<path d="M57.80 552.00 V566.00 M55.50 552.00 H60.10 M55.50 566.00 H60.10" stroke="#14269a" stroke-width="0.9" fill="none"/>
<path d="M79.60 543.70 V559.70 M77.30 543.70 H81.90 M77.30 559.70 H81.90" stroke="#14269a" stroke-width="0.9" fill="none"/>
<path d="M101.40 519.90 V542.90 M99.10 519.90 H103.70 M99.10 542.90 H103.70" stroke="#14269a" stroke-width="0.9" fill="none"/>
<path d="M123.20 520.30 V544.30 M120.90 520.30 H125.50 M120.90 544.30 H125.50" stroke="#14269a" stroke-width="0.9" fill="none"/>
<path d="M145.00 508.10 V533.10 M142.70 508.10 H147.30 M142.70 533.10 H147.30" stroke="#14269a" stroke-width="0.9" fill="none"/>
<path d="M166.80 476.00 V519.00 M164.50 476.00 H169.10 M164.50 519.00 H169.10" stroke="#14269a" stroke-width="0.9" fill="none"/>
<polyline points="57.80,559.00 79.60,551.70 101.40,531.40 123.20,532.30 145.00,520.60 166.80,497.50" fill="none" stroke="#14269a" stroke-width="1.05"/>
<circle cx="57.80" cy="559.00" r="2.45" fill="#14269a" stroke="#101e7b" stroke-width="0.5"/>
<circle cx="79.60" cy="551.70" r="2.45" fill="#14269a" stroke="#101e7b" stroke-width="0.5"/>
<circle cx="101.40" cy="531.40" r="2.45" fill="#14269a" stroke="#101e7b" stroke-width="0.5"/>
<circle cx="123.20" cy="532.30" r="2.45" fill="#14269a" stroke="#101e7b" stroke-width="0.5"/>
<circle cx="145.00" cy="520.60" r="2.45" fill="#14269a" stroke="#101e7b" stroke-width="0.5"/>
<circle cx="166.80" cy="497.50" r="2.45" fill="#14269a" stroke="#101e7b" stroke-width="0.5"/>
<line x1="53.90" y1="475.60" x2="61.50" y2="475.60" stroke="#14269a" stroke-width="1.1"/>
<circle cx="57.70" cy="475.60" r="2.30" fill="#14269a" stroke="#101e7b" stroke-width="0.5"/>
<text transform="translate(65.90,477.85) rotate(0.03)" font-size="6.4" stroke="#1a1a1a" stroke-width="0.28">Vehicle</text>
<line x1="53.90" y1="486.40" x2="61.50" y2="486.40" stroke="#f28a1f" stroke-width="1.1"/>
<circle cx="57.70" cy="486.40" r="2.30" fill="#f28a1f" stroke="#c16e18" stroke-width="0.5"/>
<text transform="translate(65.90,488.65) rotate(0.03)" font-size="6.4" stroke="#1a1a1a" stroke-width="0.28">Fulvestrant</text>
<line x1="53.90" y1="497.20" x2="61.50" y2="497.20" stroke="#3ab882" stroke-width="1.1"/>
<circle cx="57.70" cy="497.20" r="2.30" fill="#3ab882" stroke="#2e9368" stroke-width="0.5"/>
<text transform="translate(65.90,499.45) rotate(0.03)" font-size="6.4" stroke="#1a1a1a" stroke-width="0.28">SY-1365</text>
<line x1="53.90" y1="508.00" x2="61.50" y2="508.00" stroke="#1f7ae0" stroke-width="1.1"/>
<circle cx="57.70" cy="508.00" r="2.30" fill="#1f7ae0" stroke="#1861b3" stroke-width="0.5"/>
<text transform="translate(65.90,510.25) rotate(0.03)" font-size="6.4" stroke="#1a1a1a" stroke-width="0.28">Ful+SY</text>
<path d="M172.80 496.40 H176.40 V535.60 H172.80" fill="none" stroke="#444" stroke-width="1.1"/>
<path d="M181.70 512.30 H184.90 V536.60 H181.70" fill="none" stroke="#444" stroke-width="1.1"/>
<path d="M200.10 510.20 H203.30 V559.30 H200.10" fill="none" stroke="#444" stroke-width="1.1"/>
<path d="M218.80 496.40 H222.60 V558.40 H218.80" fill="none" stroke="#444" stroke-width="1.1"/>
<text transform="translate(181.00,503.70) rotate(0.03)" font-size="5.7" font-style="italic" fill="#333" stroke="#333" stroke-width="0.1">P &lt; 0.001</text>
<text transform="translate(176.40,544.40) rotate(0.03)" font-size="5.7" font-style="italic" fill="#333" stroke="#333" stroke-width="0.1">P = 0.022</text>
<text transform="translate(190.60,567.60) rotate(0.03)" font-size="5.7" font-style="italic" fill="#333" stroke="#333" stroke-width="0.1">P &lt; 0.001</text>
<text transform="translate(227.20,532.30) rotate(0.03)" font-size="5.7" font-style="italic" fill="#333" stroke="#333" stroke-width="0.1">P &lt; 0.001</text>
</g>
<g id="panelF">
<text transform="translate(269.80,465.20) rotate(0.03) scale(1.1,1)" font-size="12" font-weight="bold" fill="#000" stroke="#000" stroke-width="0.4">F</text>
<text transform="translate(398.20,467.40) rotate(0.03)" font-size="6.55" font-weight="bold" text-anchor="middle" fill="#111" stroke="#111" stroke-width="0.1">PDX1526 Mut</text>
<line x1="304.90" y1="470.05" x2="304.90" y2="580.10" stroke="#0a0a0a" stroke-width="1.25"/>
<line x1="304.30" y1="579.50" x2="446.00" y2="579.50" stroke="#0a0a0a" stroke-width="1.25"/>
<line x1="301.90" y1="470.50" x2="304.90" y2="470.50" stroke="#0a0a0a" stroke-width="1.05"/>
<text transform="translate(300.00,472.75) rotate(0.03)" font-size="6.4" font-weight="bold" text-anchor="end" fill="#111" stroke="#111" stroke-width="0.2">1,200</text>
<line x1="301.90" y1="488.70" x2="304.90" y2="488.70" stroke="#0a0a0a" stroke-width="1.05"/>
<text transform="translate(300.00,490.95) rotate(0.03)" font-size="6.4" font-weight="bold" text-anchor="end" fill="#111" stroke="#111" stroke-width="0.2">1,000</text>
<line x1="301.90" y1="506.90" x2="304.90" y2="506.90" stroke="#0a0a0a" stroke-width="1.05"/>
<text transform="translate(300.00,509.15) rotate(0.03)" font-size="6.4" font-weight="bold" text-anchor="end" fill="#111" stroke="#111" stroke-width="0.2">800</text>
<line x1="301.90" y1="525.00" x2="304.90" y2="525.00" stroke="#0a0a0a" stroke-width="1.05"/>
<text transform="translate(300.00,527.25) rotate(0.03)" font-size="6.4" font-weight="bold" text-anchor="end" fill="#111" stroke="#111" stroke-width="0.2">600</text>
<line x1="301.90" y1="543.20" x2="304.90" y2="543.20" stroke="#0a0a0a" stroke-width="1.05"/>
<text transform="translate(300.00,545.45) rotate(0.03)" font-size="6.4" font-weight="bold" text-anchor="end" fill="#111" stroke="#111" stroke-width="0.2">400</text>
<line x1="301.90" y1="561.40" x2="304.90" y2="561.40" stroke="#0a0a0a" stroke-width="1.05"/>
<text transform="translate(300.00,563.65) rotate(0.03)" font-size="6.4" font-weight="bold" text-anchor="end" fill="#111" stroke="#111" stroke-width="0.2">200</text>
<line x1="301.90" y1="579.50" x2="304.90" y2="579.50" stroke="#0a0a0a" stroke-width="1.05"/>
<text transform="translate(300.00,581.75) rotate(0.03)" font-size="6.4" font-weight="bold" text-anchor="end" fill="#111" stroke="#111" stroke-width="0.2">0</text>
<line x1="320.00" y1="579.50" x2="320.00" y2="582.50" stroke="#0a0a0a" stroke-width="1.05"/>
<text transform="translate(320.00,590.00) rotate(0.03)" font-size="6.4" font-weight="bold" text-anchor="middle" fill="#111" stroke="#111" stroke-width="0.2">0</text>
<line x1="342.30" y1="579.50" x2="342.30" y2="582.50" stroke="#0a0a0a" stroke-width="1.05"/>
<text transform="translate(342.30,590.00) rotate(0.03)" font-size="6.4" font-weight="bold" text-anchor="middle" fill="#111" stroke="#111" stroke-width="0.2">6</text>
<line x1="364.60" y1="579.50" x2="364.60" y2="582.50" stroke="#0a0a0a" stroke-width="1.05"/>
<text transform="translate(364.60,590.00) rotate(0.03)" font-size="6.4" font-weight="bold" text-anchor="middle" fill="#111" stroke="#111" stroke-width="0.2">12</text>
<line x1="386.90" y1="579.50" x2="386.90" y2="582.50" stroke="#0a0a0a" stroke-width="1.05"/>
<text transform="translate(386.90,590.00) rotate(0.03)" font-size="6.4" font-weight="bold" text-anchor="middle" fill="#111" stroke="#111" stroke-width="0.2">18</text>
<line x1="409.20" y1="579.50" x2="409.20" y2="582.50" stroke="#0a0a0a" stroke-width="1.05"/>
<text transform="translate(409.20,590.00) rotate(0.03)" font-size="6.4" font-weight="bold" text-anchor="middle" fill="#111" stroke="#111" stroke-width="0.2">24</text>
<line x1="431.50" y1="579.50" x2="431.50" y2="582.50" stroke="#0a0a0a" stroke-width="1.05"/>
<text transform="translate(431.50,590.00) rotate(0.03)" font-size="6.4" font-weight="bold" text-anchor="middle" fill="#111" stroke="#111" stroke-width="0.2">30</text>
<text transform="translate(279.50,526.50) rotate(-90.03)" text-anchor="middle" font-size="6.55" font-weight="bold" fill="#111" stroke="#111" stroke-width="0.1">Tumor volume mm<tspan font-size="4.2" dy="-2.4">3</tspan></text>
<text transform="translate(372.70,599.20) rotate(0.03)" font-size="6.55" font-weight="bold" text-anchor="middle" fill="#111" stroke="#111" stroke-width="0.1">Days on treatment</text>
<path d="M342.30 549.80 V557.80 M340.00 549.80 H344.60 M340.00 557.80 H344.60" stroke="#a9bfe6" stroke-width="0.9" fill="none"/>
<path d="M364.60 541.80 V551.80 M362.30 541.80 H366.90 M362.30 551.80 H366.90" stroke="#a9bfe6" stroke-width="0.9" fill="none"/>
<path d="M386.90 538.00 V548.00 M384.60 538.00 H389.20 M384.60 548.00 H389.20" stroke="#a9bfe6" stroke-width="0.9" fill="none"/>
<path d="M409.20 528.80 V540.80 M406.90 528.80 H411.50 M406.90 540.80 H411.50" stroke="#a9bfe6" stroke-width="0.9" fill="none"/>
<path d="M431.50 520.60 V538.60 M429.20 520.60 H433.80 M429.20 538.60 H433.80" stroke="#a9bfe6" stroke-width="0.9" fill="none"/>
<polyline points="320.00,562.50 342.30,553.80 364.60,546.80 386.90,543.00 409.20,534.80 431.50,529.60" fill="none" stroke="#a9bfe6" stroke-width="0.9"/>
<circle cx="320.00" cy="562.50" r="2.2" fill="#a9bfe6" stroke="#8798b8" stroke-width="0.5"/>
<circle cx="342.30" cy="553.80" r="2.2" fill="#a9bfe6" stroke="#8798b8" stroke-width="0.5"/>
<circle cx="364.60" cy="546.80" r="2.2" fill="#a9bfe6" stroke="#8798b8" stroke-width="0.5"/>
<circle cx="386.90" cy="543.00" r="2.2" fill="#a9bfe6" stroke="#8798b8" stroke-width="0.5"/>
<circle cx="409.20" cy="534.80" r="2.2" fill="#a9bfe6" stroke="#8798b8" stroke-width="0.5"/>
<circle cx="431.50" cy="529.60" r="2.2" fill="#a9bfe6" stroke="#8798b8" stroke-width="0.5"/>
<path d="M342.30 546.80 V554.80 M340.00 546.80 H344.60 M340.00 554.80 H344.60" stroke="#f5893a" stroke-width="0.9" fill="none"/>
<path d="M364.60 530.30 V545.30 M362.30 530.30 H366.90 M362.30 545.30 H366.90" stroke="#f5893a" stroke-width="0.9" fill="none"/>
<path d="M386.90 535.50 V547.50 M384.60 535.50 H389.20 M384.60 547.50 H389.20" stroke="#f5893a" stroke-width="0.9" fill="none"/>
<path d="M409.20 520.00 V532.00 M406.90 520.00 H411.50 M406.90 532.00 H411.50" stroke="#f5893a" stroke-width="0.9" fill="none"/>
<path d="M431.50 514.00 V538.80 M429.20 514.00 H433.80 M429.20 538.80 H433.80" stroke="#f5893a" stroke-width="0.9" fill="none"/>
<polyline points="320.00,562.00 342.30,550.80 364.60,537.80 386.90,541.50 409.20,526.00 431.50,526.40" fill="none" stroke="#f5893a" stroke-width="0.9"/>
<circle cx="320.00" cy="562.00" r="2.2" fill="#f5893a" stroke="#c46d2e" stroke-width="0.5"/>
<circle cx="342.30" cy="550.80" r="2.2" fill="#f5893a" stroke="#c46d2e" stroke-width="0.5"/>
<circle cx="364.60" cy="537.80" r="2.2" fill="#f5893a" stroke="#c46d2e" stroke-width="0.5"/>
<circle cx="386.90" cy="541.50" r="2.2" fill="#f5893a" stroke="#c46d2e" stroke-width="0.5"/>
<circle cx="409.20" cy="526.00" r="2.2" fill="#f5893a" stroke="#c46d2e" stroke-width="0.5"/>
<circle cx="431.50" cy="526.40" r="2.2" fill="#f5893a" stroke="#c46d2e" stroke-width="0.5"/>
<path d="M342.30 558.50 V566.50 M340.00 558.50 H344.60 M340.00 566.50 H344.60" stroke="#6d1f6d" stroke-width="0.9" fill="none"/>
<path d="M364.60 548.80 V555.80 M362.30 548.80 H366.90 M362.30 555.80 H366.90" stroke="#6d1f6d" stroke-width="0.9" fill="none"/>
<path d="M386.90 544.80 V556.80 M384.60 544.80 H389.20 M384.60 556.80 H389.20" stroke="#6d1f6d" stroke-width="0.9" fill="none"/>
<path d="M409.20 551.20 V559.60 M406.90 551.20 H411.50 M406.90 559.60 H411.50" stroke="#6d1f6d" stroke-width="0.9" fill="none"/>
<path d="M431.50 545.20 V560.40 M429.20 545.20 H433.80 M429.20 560.40 H433.80" stroke="#6d1f6d" stroke-width="0.9" fill="none"/>
<polyline points="320.00,563.00 342.30,562.50 364.60,552.30 386.90,550.80 409.20,555.40 431.50,552.80" fill="none" stroke="#6d1f6d" stroke-width="0.9"/>
<circle cx="320.00" cy="563.00" r="2.2" fill="#6d1f6d" stroke="#571857" stroke-width="0.5"/>
<circle cx="342.30" cy="562.50" r="2.2" fill="#6d1f6d" stroke="#571857" stroke-width="0.5"/>
<circle cx="364.60" cy="552.30" r="2.2" fill="#6d1f6d" stroke="#571857" stroke-width="0.5"/>
<circle cx="386.90" cy="550.80" r="2.2" fill="#6d1f6d" stroke="#571857" stroke-width="0.5"/>
<circle cx="409.20" cy="555.40" r="2.2" fill="#6d1f6d" stroke="#571857" stroke-width="0.5"/>
<circle cx="431.50" cy="552.80" r="2.2" fill="#6d1f6d" stroke="#571857" stroke-width="0.5"/>
<path d="M342.30 550.20 V556.20 M340.00 550.20 H344.60 M340.00 556.20 H344.60" stroke="#1f3a9e" stroke-width="0.9" fill="none"/>
<path d="M364.60 541.20 V549.20 M362.30 541.20 H366.90 M362.30 549.20 H366.90" stroke="#1f3a9e" stroke-width="0.9" fill="none"/>
<path d="M386.90 526.20 V540.20 M384.60 526.20 H389.20 M384.60 540.20 H389.20" stroke="#1f3a9e" stroke-width="0.9" fill="none"/>
<path d="M409.20 508.40 V522.40 M406.90 508.40 H411.50 M406.90 522.40 H411.50" stroke="#1f3a9e" stroke-width="0.9" fill="none"/>
<path d="M431.50 486.10 V504.70 M429.20 486.10 H433.80 M429.20 504.70 H433.80" stroke="#1f3a9e" stroke-width="0.9" fill="none"/>
<polyline points="320.00,562.50 342.30,553.20 364.60,545.20 386.90,533.20 409.20,515.40 431.50,495.40" fill="none" stroke="#1f3a9e" stroke-width="0.9"/>
<circle cx="320.00" cy="562.50" r="2.2" fill="#1f3a9e" stroke="#182e7e" stroke-width="0.5"/>
<circle cx="342.30" cy="553.20" r="2.2" fill="#1f3a9e" stroke="#182e7e" stroke-width="0.5"/>
<circle cx="364.60" cy="545.20" r="2.2" fill="#1f3a9e" stroke="#182e7e" stroke-width="0.5"/>
<circle cx="386.90" cy="533.20" r="2.2" fill="#1f3a9e" stroke="#182e7e" stroke-width="0.5"/>
<circle cx="409.20" cy="515.40" r="2.2" fill="#1f3a9e" stroke="#182e7e" stroke-width="0.5"/>
<circle cx="431.50" cy="495.40" r="2.2" fill="#1f3a9e" stroke="#182e7e" stroke-width="0.5"/>
<line x1="314.50" y1="477.70" x2="322.10" y2="477.70" stroke="#1f3a9e" stroke-width="1.1"/>
<circle cx="318.30" cy="477.70" r="2.05" fill="#1f3a9e" stroke="#182e7e" stroke-width="0.5"/>
<text transform="translate(325.90,479.95) rotate(0.03)" font-size="6.4" stroke="#1a1a1a" stroke-width="0.28">Vehicle</text>
<line x1="314.50" y1="488.50" x2="322.10" y2="488.50" stroke="#f5893a" stroke-width="1.1"/>
<circle cx="318.30" cy="488.50" r="2.05" fill="#f5893a" stroke="#c46d2e" stroke-width="0.5"/>
<text transform="translate(325.90,490.75) rotate(0.03)" font-size="6.4" stroke="#1a1a1a" stroke-width="0.28">Fulvestrant</text>
<line x1="314.50" y1="499.30" x2="322.10" y2="499.30" stroke="#a9bfe6" stroke-width="1.1"/>
<circle cx="318.30" cy="499.30" r="2.05" fill="#a9bfe6" stroke="#8798b8" stroke-width="0.5"/>
<text transform="translate(325.90,501.55) rotate(0.03)" font-size="6.4" stroke="#1a1a1a" stroke-width="0.28">Samuraciclib</text>
<line x1="314.50" y1="510.10" x2="322.10" y2="510.10" stroke="#6d1f6d" stroke-width="1.1"/>
<circle cx="318.30" cy="510.10" r="2.05" fill="#6d1f6d" stroke="#571857" stroke-width="0.5"/>
<text transform="translate(325.90,512.35) rotate(0.03)" font-size="6.4" stroke="#1a1a1a" stroke-width="0.28">Ful+Samura</text>
<path d="M435.80 495.40 H439.20 V526.70 H435.80" fill="none" stroke="#444" stroke-width="1.1"/>
<path d="M435.80 526.70 H439.20 V552.50 H435.80" fill="none" stroke="#444" stroke-width="1.1"/>
<path d="M464.00 495.40 H467.10 V529.90 H464.00" fill="none" stroke="#444" stroke-width="1.1"/>
<path d="M464.00 529.90 H467.10 V552.50 H464.00" fill="none" stroke="#444" stroke-width="1.1"/>
<path d="M491.00 495.40 H494.60 V553.10 H491.00" fill="none" stroke="#444" stroke-width="1.1"/>
<text transform="translate(441.30,516.00) rotate(0.03)" font-size="5.7" font-style="italic" fill="#333" stroke="#333" stroke-width="0.1">P = 0.034</text>
<text transform="translate(441.30,541.80) rotate(0.03)" font-size="5.7" font-style="italic" fill="#333" stroke="#333" stroke-width="0.1">P &lt; 0.001</text>
<text transform="translate(468.60,510.00) rotate(0.03)" font-size="5.7" font-style="italic" fill="#333" stroke="#333" stroke-width="0.1">P = 0.033</text>
<text transform="translate(468.60,541.80) rotate(0.03)" font-size="5.7" font-style="italic" fill="#333" stroke="#333" stroke-width="0.1">P = 0.001</text>
<text transform="translate(495.70,527.00) rotate(0.03)" font-size="5.7" font-style="italic" fill="#333" stroke="#333" stroke-width="0.1">P &lt; 0.001</text>
</g>
</svg></body></html>
